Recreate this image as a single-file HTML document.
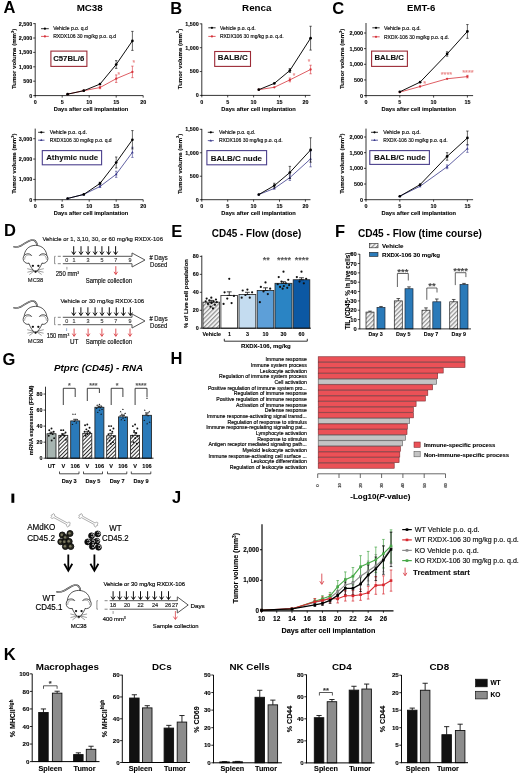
<!DOCTYPE html>
<html><head><meta charset="utf-8"><style>
html,body{margin:0;padding:0;background:#fff;}
svg{display:block;}
text{font-family:"Liberation Sans",Arial,sans-serif;}
</style></head><body>
<svg width="520" height="773" viewBox="0 0 520 773">
<rect width="520" height="773" fill="#fff"/>
<text x="3.5" y="13.46" font-size="16.5" font-weight="bold">A</text>
<text x="170.3" y="13.76" font-size="16.5" font-weight="bold">B</text>
<text x="332.2" y="13.96" font-size="16.5" font-weight="bold">C</text>
<text x="89.7" y="10.98" font-size="9.8" font-weight="bold" text-anchor="middle">MC38</text>
<text x="256.8" y="10.88" font-size="9.8" font-weight="bold" text-anchor="middle">Renca</text>
<text x="421.2" y="10.71" font-size="9.6" font-weight="bold" text-anchor="middle">EMT-6</text>
<line x1="35.2" y1="23.2" x2="35.2" y2="96" stroke="#000" stroke-width="0.8"/>
<line x1="33.2" y1="95.6" x2="35.2" y2="95.6" stroke="#000" stroke-width="0.72"/>
<text x="32.2" y="97.52" font-size="5.4" font-weight="bold" text-anchor="end" stroke="#000" stroke-width="0.1">0</text>
<line x1="33.2" y1="81.2" x2="35.2" y2="81.2" stroke="#000" stroke-width="0.72"/>
<text x="32.2" y="83.12" font-size="5.4" font-weight="bold" text-anchor="end" stroke="#000" stroke-width="0.1">500</text>
<line x1="33.2" y1="66.8" x2="35.2" y2="66.8" stroke="#000" stroke-width="0.72"/>
<text x="32.2" y="68.72" font-size="5.4" font-weight="bold" text-anchor="end" stroke="#000" stroke-width="0.1">1,000</text>
<line x1="33.2" y1="52.4" x2="35.2" y2="52.4" stroke="#000" stroke-width="0.72"/>
<text x="32.2" y="54.32" font-size="5.4" font-weight="bold" text-anchor="end" stroke="#000" stroke-width="0.1">1,500</text>
<line x1="33.2" y1="38" x2="35.2" y2="38" stroke="#000" stroke-width="0.72"/>
<text x="32.2" y="39.92" font-size="5.4" font-weight="bold" text-anchor="end" stroke="#000" stroke-width="0.1">2,000</text>
<line x1="33.2" y1="23.6" x2="35.2" y2="23.6" stroke="#000" stroke-width="0.72"/>
<text x="32.2" y="25.52" font-size="5.4" font-weight="bold" text-anchor="end" stroke="#000" stroke-width="0.1">2,500</text>
<line x1="34.8" y1="95.6" x2="143.2" y2="95.6" stroke="#000" stroke-width="0.8"/>
<line x1="35.2" y1="95.6" x2="35.2" y2="97.6" stroke="#000" stroke-width="0.72"/>
<text x="35.2" y="103.82" font-size="5.4" font-weight="bold" text-anchor="middle" stroke="#000" stroke-width="0.1">0</text>
<line x1="62.2" y1="95.6" x2="62.2" y2="97.6" stroke="#000" stroke-width="0.72"/>
<text x="62.2" y="103.82" font-size="5.4" font-weight="bold" text-anchor="middle" stroke="#000" stroke-width="0.1">5</text>
<line x1="89.2" y1="95.6" x2="89.2" y2="97.6" stroke="#000" stroke-width="0.72"/>
<text x="89.2" y="103.82" font-size="5.4" font-weight="bold" text-anchor="middle" stroke="#000" stroke-width="0.1">10</text>
<line x1="116.2" y1="95.6" x2="116.2" y2="97.6" stroke="#000" stroke-width="0.72"/>
<text x="116.2" y="103.82" font-size="5.4" font-weight="bold" text-anchor="middle" stroke="#000" stroke-width="0.1">15</text>
<line x1="143.2" y1="95.6" x2="143.2" y2="97.6" stroke="#000" stroke-width="0.72"/>
<text x="143.2" y="103.82" font-size="5.4" font-weight="bold" text-anchor="middle" stroke="#000" stroke-width="0.1">20</text>
<text x="13.8" y="61.07" font-size="6.1" font-weight="bold" text-anchor="middle" stroke="#000" stroke-width="0.1" transform="rotate(-90 13.8 58.9)">Tumor volume (mm<tspan font-size="4" dy="-2.2">3</tspan><tspan dy="2.2">)</tspan></text>
<text x="91" y="111.04" font-size="5.75" font-weight="bold" text-anchor="middle" textLength="74.5" lengthAdjust="spacingAndGlyphs" stroke="#000" stroke-width="0.1">Days after cell implantation</text>
<line x1="41" y1="28.7" x2="48.8" y2="28.7" stroke="#000" stroke-width="0.8"/>
<circle cx="44.9" cy="28.7" r="1.1" fill="#000"/>
<line x1="41" y1="36.4" x2="48.8" y2="36.4" stroke="#d6333b" stroke-width="0.8"/>
<circle cx="44.9" cy="36.4" r="1.1" fill="#d6333b"/>
<text x="53.2" y="30.47" font-size="5" fill="#111" textLength="34.6" lengthAdjust="spacingAndGlyphs" stroke="#111" stroke-width="0.16">Vehicle p.o. q.d</text>
<text x="53.2" y="38.17" font-size="5" fill="#111" textLength="62.8" lengthAdjust="spacingAndGlyphs" stroke="#111" stroke-width="0.16">RXDX106 30 mg/kg p.o. q.d</text>
<rect x="50.9" y="51.1" width="36" height="15.3" fill="#fff" stroke="#9c2a36" stroke-width="1.1"/>
<text x="53.2" y="60.76" font-size="7.77" font-weight="bold" fill="#111" textLength="31.1" lengthAdjust="spacingAndGlyphs" stroke="#111" stroke-width="0.1">C57BL/6</text>
<path d="M67.6,94.16 L83.8,90.7 L100,87.54 L116.2,78.69 L132.4,71.9" fill="none" stroke="#d6333b" stroke-width="0.8"/>
<line x1="100" y1="86.38" x2="100" y2="88.69" stroke="#d6333b" stroke-width="0.6"/>
<line x1="98.8" y1="86.38" x2="101.2" y2="86.38" stroke="#d6333b" stroke-width="0.6"/>
<line x1="98.8" y1="88.69" x2="101.2" y2="88.69" stroke="#d6333b" stroke-width="0.6"/>
<line x1="116.2" y1="74.95" x2="116.2" y2="82.44" stroke="#d6333b" stroke-width="0.6"/>
<line x1="115" y1="74.95" x2="117.4" y2="74.95" stroke="#d6333b" stroke-width="0.6"/>
<line x1="115" y1="82.44" x2="117.4" y2="82.44" stroke="#d6333b" stroke-width="0.6"/>
<line x1="132.4" y1="66.14" x2="132.4" y2="77.66" stroke="#d6333b" stroke-width="0.6"/>
<line x1="131.2" y1="66.14" x2="133.6" y2="66.14" stroke="#d6333b" stroke-width="0.6"/>
<line x1="131.2" y1="77.66" x2="133.6" y2="77.66" stroke="#d6333b" stroke-width="0.6"/>
<circle cx="67.6" cy="94.16" r="1.15" fill="#d6333b"/>
<circle cx="83.8" cy="90.7" r="1.15" fill="#d6333b"/>
<circle cx="100" cy="87.54" r="1.15" fill="#d6333b"/>
<circle cx="116.2" cy="78.69" r="1.15" fill="#d6333b"/>
<circle cx="132.4" cy="71.9" r="1.15" fill="#d6333b"/>
<path d="M67.6,94.16 L83.8,90.7 L100,84.08 L116.2,64.5 L132.4,40.88" fill="none" stroke="#000" stroke-width="0.95"/>
<line x1="116.2" y1="60.61" x2="116.2" y2="68.38" stroke="#000" stroke-width="0.6"/>
<line x1="115" y1="60.61" x2="117.4" y2="60.61" stroke="#000" stroke-width="0.6"/>
<line x1="115" y1="68.38" x2="117.4" y2="68.38" stroke="#000" stroke-width="0.6"/>
<line x1="132.4" y1="31.38" x2="132.4" y2="50.38" stroke="#000" stroke-width="0.6"/>
<line x1="131.2" y1="31.38" x2="133.6" y2="31.38" stroke="#000" stroke-width="0.6"/>
<line x1="131.2" y1="50.38" x2="133.6" y2="50.38" stroke="#000" stroke-width="0.6"/>
<circle cx="67.6" cy="94.16" r="1.35" fill="#000"/>
<circle cx="83.8" cy="90.7" r="1.35" fill="#000"/>
<circle cx="100" cy="84.08" r="1.35" fill="#000"/>
<circle cx="116.2" cy="64.5" r="1.35" fill="#000"/>
<circle cx="132.4" cy="40.88" r="1.35" fill="#000"/>
<text x="118.8" y="76.51" font-size="6.5" text-anchor="middle" fill="#ea8a8a" stroke="#ea8a8a" stroke-width="0.16">*</text>
<text x="133.8" y="65.11" font-size="6.5" text-anchor="middle" fill="#ea8a8a" stroke="#ea8a8a" stroke-width="0.16">*</text>
<line x1="201.8" y1="23.5" x2="201.8" y2="95.8" stroke="#000" stroke-width="0.8"/>
<line x1="199.8" y1="95.4" x2="201.8" y2="95.4" stroke="#000" stroke-width="0.72"/>
<text x="198.8" y="97.32" font-size="5.4" font-weight="bold" text-anchor="end" stroke="#000" stroke-width="0.1">0</text>
<line x1="199.8" y1="71.55" x2="201.8" y2="71.55" stroke="#000" stroke-width="0.72"/>
<text x="198.8" y="73.47" font-size="5.4" font-weight="bold" text-anchor="end" stroke="#000" stroke-width="0.1">500</text>
<line x1="199.8" y1="47.7" x2="201.8" y2="47.7" stroke="#000" stroke-width="0.72"/>
<text x="198.8" y="49.62" font-size="5.4" font-weight="bold" text-anchor="end" stroke="#000" stroke-width="0.1">1,000</text>
<line x1="199.8" y1="23.85" x2="201.8" y2="23.85" stroke="#000" stroke-width="0.72"/>
<text x="198.8" y="25.77" font-size="5.4" font-weight="bold" text-anchor="end" stroke="#000" stroke-width="0.1">1,500</text>
<line x1="201.4" y1="95.4" x2="310.5" y2="95.4" stroke="#000" stroke-width="0.8"/>
<line x1="201.8" y1="95.4" x2="201.8" y2="97.4" stroke="#000" stroke-width="0.72"/>
<text x="201.8" y="103.62" font-size="5.4" font-weight="bold" text-anchor="middle" stroke="#000" stroke-width="0.1">0</text>
<line x1="227.7" y1="95.4" x2="227.7" y2="97.4" stroke="#000" stroke-width="0.72"/>
<text x="227.7" y="103.62" font-size="5.4" font-weight="bold" text-anchor="middle" stroke="#000" stroke-width="0.1">5</text>
<line x1="253.6" y1="95.4" x2="253.6" y2="97.4" stroke="#000" stroke-width="0.72"/>
<text x="253.6" y="103.62" font-size="5.4" font-weight="bold" text-anchor="middle" stroke="#000" stroke-width="0.1">10</text>
<line x1="279.5" y1="95.4" x2="279.5" y2="97.4" stroke="#000" stroke-width="0.72"/>
<text x="279.5" y="103.62" font-size="5.4" font-weight="bold" text-anchor="middle" stroke="#000" stroke-width="0.1">15</text>
<line x1="305.4" y1="95.4" x2="305.4" y2="97.4" stroke="#000" stroke-width="0.72"/>
<text x="305.4" y="103.62" font-size="5.4" font-weight="bold" text-anchor="middle" stroke="#000" stroke-width="0.1">20</text>
<text x="179.5" y="61.12" font-size="6.1" font-weight="bold" text-anchor="middle" stroke="#000" stroke-width="0.1" transform="rotate(-90 179.5 58.95)">Tumor volume (mm<tspan font-size="4" dy="-2.2">3</tspan><tspan dy="2.2">)</tspan></text>
<text x="258.6" y="110.84" font-size="5.75" font-weight="bold" text-anchor="middle" textLength="74.5" lengthAdjust="spacingAndGlyphs" stroke="#000" stroke-width="0.1">Days after cell implantation</text>
<line x1="208.3" y1="27.8" x2="215.6" y2="27.8" stroke="#000" stroke-width="0.8"/>
<circle cx="211.95" cy="27.8" r="1.1" fill="#000"/>
<line x1="208.3" y1="36.4" x2="215.6" y2="36.4" stroke="#d6333b" stroke-width="0.8"/>
<circle cx="211.95" cy="36.4" r="1.1" fill="#d6333b"/>
<text x="219.9" y="29.57" font-size="5" fill="#111" textLength="35.8" lengthAdjust="spacingAndGlyphs" stroke="#111" stroke-width="0.16">Vehicle p.o. q.d.</text>
<text x="219.9" y="38.17" font-size="5" fill="#111" textLength="63.7" lengthAdjust="spacingAndGlyphs" stroke="#111" stroke-width="0.16">RXDX106 30 mg/kg p.o. q.d.</text>
<rect x="214.7" y="51.5" width="35.8" height="14.9" fill="#fff" stroke="#9c2a36" stroke-width="1.1"/>
<text x="217.8" y="60.4" font-size="7.89" font-weight="bold" fill="#111" textLength="29.8" lengthAdjust="spacingAndGlyphs" stroke="#111" stroke-width="0.1">BALB/C</text>
<path d="M258.78,89.68 L274.32,87.29 L289.86,79.9 L310.58,69.5" fill="none" stroke="#d6333b" stroke-width="0.8"/>
<line x1="289.86" y1="77.99" x2="289.86" y2="81.81" stroke="#d6333b" stroke-width="0.6"/>
<line x1="288.66" y1="77.99" x2="291.06" y2="77.99" stroke="#d6333b" stroke-width="0.6"/>
<line x1="288.66" y1="81.81" x2="291.06" y2="81.81" stroke="#d6333b" stroke-width="0.6"/>
<line x1="310.58" y1="65.21" x2="310.58" y2="73.79" stroke="#d6333b" stroke-width="0.6"/>
<line x1="309.38" y1="65.21" x2="311.78" y2="65.21" stroke="#d6333b" stroke-width="0.6"/>
<line x1="309.38" y1="73.79" x2="311.78" y2="73.79" stroke="#d6333b" stroke-width="0.6"/>
<circle cx="258.78" cy="89.68" r="1.15" fill="#d6333b"/>
<circle cx="274.32" cy="87.29" r="1.15" fill="#d6333b"/>
<circle cx="289.86" cy="79.9" r="1.15" fill="#d6333b"/>
<circle cx="310.58" cy="69.5" r="1.15" fill="#d6333b"/>
<path d="M258.78,89.68 L274.32,83.38 L289.86,70.5 L310.58,38.16" fill="none" stroke="#000" stroke-width="0.95"/>
<line x1="289.86" y1="68.59" x2="289.86" y2="72.41" stroke="#000" stroke-width="0.6"/>
<line x1="288.66" y1="68.59" x2="291.06" y2="68.59" stroke="#000" stroke-width="0.6"/>
<line x1="288.66" y1="72.41" x2="291.06" y2="72.41" stroke="#000" stroke-width="0.6"/>
<line x1="310.58" y1="26.24" x2="310.58" y2="50.09" stroke="#000" stroke-width="0.6"/>
<line x1="309.38" y1="26.24" x2="311.78" y2="26.24" stroke="#000" stroke-width="0.6"/>
<line x1="309.38" y1="50.09" x2="311.78" y2="50.09" stroke="#000" stroke-width="0.6"/>
<circle cx="258.78" cy="89.68" r="1.35" fill="#000"/>
<circle cx="274.32" cy="83.38" r="1.35" fill="#000"/>
<circle cx="289.86" cy="70.5" r="1.35" fill="#000"/>
<circle cx="310.58" cy="38.16" r="1.35" fill="#000"/>
<text x="294" y="78.31" font-size="6.5" text-anchor="middle" fill="#ea8a8a" stroke="#ea8a8a" stroke-width="0.16">*</text>
<text x="309.1" y="63.51" font-size="6.5" text-anchor="middle" fill="#ea8a8a" stroke="#ea8a8a" stroke-width="0.16">*</text>
<line x1="366" y1="23" x2="366" y2="96" stroke="#000" stroke-width="0.8"/>
<line x1="364" y1="95.6" x2="366" y2="95.6" stroke="#000" stroke-width="0.72"/>
<text x="363" y="97.52" font-size="5.4" font-weight="bold" text-anchor="end" stroke="#000" stroke-width="0.1">0</text>
<line x1="364" y1="79.95" x2="366" y2="79.95" stroke="#000" stroke-width="0.72"/>
<text x="363" y="81.87" font-size="5.4" font-weight="bold" text-anchor="end" stroke="#000" stroke-width="0.1">500</text>
<line x1="364" y1="64.3" x2="366" y2="64.3" stroke="#000" stroke-width="0.72"/>
<text x="363" y="66.22" font-size="5.4" font-weight="bold" text-anchor="end" stroke="#000" stroke-width="0.1">1,000</text>
<line x1="364" y1="48.65" x2="366" y2="48.65" stroke="#000" stroke-width="0.72"/>
<text x="363" y="50.57" font-size="5.4" font-weight="bold" text-anchor="end" stroke="#000" stroke-width="0.1">1,500</text>
<line x1="364" y1="33" x2="366" y2="33" stroke="#000" stroke-width="0.72"/>
<text x="363" y="34.92" font-size="5.4" font-weight="bold" text-anchor="end" stroke="#000" stroke-width="0.1">2,000</text>
<line x1="365.6" y1="95.6" x2="473.1" y2="95.6" stroke="#000" stroke-width="0.8"/>
<line x1="366" y1="95.6" x2="366" y2="97.6" stroke="#000" stroke-width="0.72"/>
<text x="366" y="103.82" font-size="5.4" font-weight="bold" text-anchor="middle" stroke="#000" stroke-width="0.1">0</text>
<line x1="399.8" y1="95.6" x2="399.8" y2="97.6" stroke="#000" stroke-width="0.72"/>
<text x="399.8" y="103.82" font-size="5.4" font-weight="bold" text-anchor="middle" stroke="#000" stroke-width="0.1">5</text>
<line x1="433.6" y1="95.6" x2="433.6" y2="97.6" stroke="#000" stroke-width="0.72"/>
<text x="433.6" y="103.82" font-size="5.4" font-weight="bold" text-anchor="middle" stroke="#000" stroke-width="0.1">10</text>
<line x1="467.4" y1="95.6" x2="467.4" y2="97.6" stroke="#000" stroke-width="0.72"/>
<text x="467.4" y="103.82" font-size="5.4" font-weight="bold" text-anchor="middle" stroke="#000" stroke-width="0.1">15</text>
<text x="342.3" y="60.97" font-size="6.1" font-weight="bold" text-anchor="middle" stroke="#000" stroke-width="0.1" transform="rotate(-90 342.3 58.8)">Tumor volume (mm<tspan font-size="4" dy="-2.2">3</tspan><tspan dy="2.2">)</tspan></text>
<text x="418.8" y="111.04" font-size="5.75" font-weight="bold" text-anchor="middle" textLength="74.5" lengthAdjust="spacingAndGlyphs" stroke="#000" stroke-width="0.1">Days after cell implantation</text>
<line x1="372.3" y1="27.8" x2="379.7" y2="27.8" stroke="#000" stroke-width="0.8"/>
<circle cx="376" cy="27.8" r="1.1" fill="#000"/>
<line x1="372.3" y1="36.8" x2="379.7" y2="36.8" stroke="#d6333b" stroke-width="0.8"/>
<circle cx="376" cy="36.8" r="1.1" fill="#d6333b"/>
<text x="384" y="29.57" font-size="5" fill="#111" textLength="36.7" lengthAdjust="spacingAndGlyphs" stroke="#111" stroke-width="0.16">Vehicle p.o. q.d.</text>
<text x="384" y="38.57" font-size="5" fill="#111" textLength="64.9" lengthAdjust="spacingAndGlyphs" stroke="#111" stroke-width="0.16">RXDX-106 30 mg/kg p.o. q.d.</text>
<rect x="371.6" y="51.1" width="35.8" height="15.3" fill="#fff" stroke="#9c2a36" stroke-width="1.1"/>
<text x="374.5" y="60.36" font-size="7.78" font-weight="bold" fill="#111" textLength="29.4" lengthAdjust="spacingAndGlyphs" stroke="#111" stroke-width="0.1">BALB/C</text>
<path d="M399.8,92.16 L420.08,86.52 L447.12,78.79 L467.4,76.6" fill="none" stroke="#d6333b" stroke-width="0.8"/>
<line x1="467.4" y1="75.35" x2="467.4" y2="77.85" stroke="#d6333b" stroke-width="0.6"/>
<line x1="466.2" y1="75.35" x2="468.6" y2="75.35" stroke="#d6333b" stroke-width="0.6"/>
<line x1="466.2" y1="77.85" x2="468.6" y2="77.85" stroke="#d6333b" stroke-width="0.6"/>
<circle cx="399.8" cy="92.16" r="1.15" fill="#d6333b"/>
<circle cx="420.08" cy="86.52" r="1.15" fill="#d6333b"/>
<circle cx="447.12" cy="78.79" r="1.15" fill="#d6333b"/>
<circle cx="467.4" cy="76.6" r="1.15" fill="#d6333b"/>
<path d="M399.8,91.84 L420.08,82.14 L447.12,53.97 L467.4,31.43" fill="none" stroke="#000" stroke-width="0.95"/>
<line x1="447.12" y1="51.78" x2="447.12" y2="56.16" stroke="#000" stroke-width="0.6"/>
<line x1="445.92" y1="51.78" x2="448.32" y2="51.78" stroke="#000" stroke-width="0.6"/>
<line x1="445.92" y1="56.16" x2="448.32" y2="56.16" stroke="#000" stroke-width="0.6"/>
<line x1="467.4" y1="24.55" x2="467.4" y2="38.32" stroke="#000" stroke-width="0.6"/>
<line x1="466.2" y1="24.55" x2="468.6" y2="24.55" stroke="#000" stroke-width="0.6"/>
<line x1="466.2" y1="38.32" x2="468.6" y2="38.32" stroke="#000" stroke-width="0.6"/>
<circle cx="399.8" cy="91.84" r="1.35" fill="#000"/>
<circle cx="420.08" cy="82.14" r="1.35" fill="#000"/>
<circle cx="447.12" cy="53.97" r="1.35" fill="#000"/>
<circle cx="467.4" cy="31.43" r="1.35" fill="#000"/>
<text x="424.6" y="85.63" font-size="7.4" text-anchor="middle" fill="#ea8a8a" stroke="#ea8a8a" stroke-width="0.16">*</text>
<text x="446.5" y="77.43" font-size="7.4" text-anchor="middle" fill="#ea8a8a" stroke="#ea8a8a" stroke-width="0.16">****</text>
<text x="468" y="74.83" font-size="7.4" text-anchor="middle" fill="#ea8a8a" stroke="#ea8a8a" stroke-width="0.16">****</text>
<line x1="35.2" y1="128.6" x2="35.2" y2="200.1" stroke="#000" stroke-width="0.8"/>
<line x1="33.2" y1="199.7" x2="35.2" y2="199.7" stroke="#000" stroke-width="0.72"/>
<text x="32.2" y="201.62" font-size="5.4" font-weight="bold" text-anchor="end" stroke="#000" stroke-width="0.1">0</text>
<line x1="33.2" y1="179.37" x2="35.2" y2="179.37" stroke="#000" stroke-width="0.72"/>
<text x="32.2" y="181.29" font-size="5.4" font-weight="bold" text-anchor="end" stroke="#000" stroke-width="0.1">1,000</text>
<line x1="33.2" y1="159.04" x2="35.2" y2="159.04" stroke="#000" stroke-width="0.72"/>
<text x="32.2" y="160.96" font-size="5.4" font-weight="bold" text-anchor="end" stroke="#000" stroke-width="0.1">2,000</text>
<line x1="33.2" y1="138.71" x2="35.2" y2="138.71" stroke="#000" stroke-width="0.72"/>
<text x="32.2" y="140.63" font-size="5.4" font-weight="bold" text-anchor="end" stroke="#000" stroke-width="0.1">3,000</text>
<line x1="34.8" y1="199.7" x2="143.2" y2="199.7" stroke="#000" stroke-width="0.8"/>
<line x1="35.2" y1="199.7" x2="35.2" y2="201.7" stroke="#000" stroke-width="0.72"/>
<text x="35.2" y="207.92" font-size="5.4" font-weight="bold" text-anchor="middle" stroke="#000" stroke-width="0.1">0</text>
<line x1="62.2" y1="199.7" x2="62.2" y2="201.7" stroke="#000" stroke-width="0.72"/>
<text x="62.2" y="207.92" font-size="5.4" font-weight="bold" text-anchor="middle" stroke="#000" stroke-width="0.1">5</text>
<line x1="89.2" y1="199.7" x2="89.2" y2="201.7" stroke="#000" stroke-width="0.72"/>
<text x="89.2" y="207.92" font-size="5.4" font-weight="bold" text-anchor="middle" stroke="#000" stroke-width="0.1">10</text>
<line x1="116.2" y1="199.7" x2="116.2" y2="201.7" stroke="#000" stroke-width="0.72"/>
<text x="116.2" y="207.92" font-size="5.4" font-weight="bold" text-anchor="middle" stroke="#000" stroke-width="0.1">15</text>
<line x1="143.2" y1="199.7" x2="143.2" y2="201.7" stroke="#000" stroke-width="0.72"/>
<text x="143.2" y="207.92" font-size="5.4" font-weight="bold" text-anchor="middle" stroke="#000" stroke-width="0.1">20</text>
<text x="13.8" y="165.82" font-size="6.1" font-weight="bold" text-anchor="middle" stroke="#000" stroke-width="0.1" transform="rotate(-90 13.8 163.65)">Tumor volume (mm<tspan font-size="4" dy="-2.2">3</tspan><tspan dy="2.2">)</tspan></text>
<text x="91" y="215.14" font-size="5.75" font-weight="bold" text-anchor="middle" textLength="74.5" lengthAdjust="spacingAndGlyphs" stroke="#000" stroke-width="0.1">Days after cell implantation</text>
<line x1="38.1" y1="132.3" x2="44.5" y2="132.3" stroke="#000" stroke-width="0.8"/>
<circle cx="41.3" cy="132.3" r="1.1" fill="#000"/>
<line x1="38.1" y1="140.2" x2="44.5" y2="140.2" stroke="#3a3a8c" stroke-width="0.8"/>
<path d="M41.3,138.81 L42.57,141.12 L40.03,141.12 Z" fill="#3a3a8c"/>
<text x="49.7" y="134.08" font-size="5" fill="#111" textLength="37.2" lengthAdjust="spacingAndGlyphs" stroke="#111" stroke-width="0.16">Vehicle p.o. q.d.</text>
<text x="49.7" y="141.97" font-size="5" fill="#111" textLength="61.9" lengthAdjust="spacingAndGlyphs" stroke="#111" stroke-width="0.16">RXDX106 30 mg/kg p.o. q.d</text>
<rect x="42.3" y="150.6" width="59.3" height="14.2" fill="#fff" stroke="#4b3f8c" stroke-width="1.1"/>
<text x="46.2" y="160.39" font-size="7.85" font-weight="bold" fill="#111" textLength="51.9" lengthAdjust="spacingAndGlyphs" stroke="#111" stroke-width="0.1">Athymic nude</text>
<path d="M67.6,198.48 L83.8,194.41 L100,186.49 L116.2,174.29 L132.4,152.33" fill="none" stroke="#3a3a8c" stroke-width="0.8"/>
<line x1="100" y1="185.67" x2="100" y2="187.3" stroke="#3a3a8c" stroke-width="0.6"/>
<line x1="98.8" y1="185.67" x2="101.2" y2="185.67" stroke="#3a3a8c" stroke-width="0.6"/>
<line x1="98.8" y1="187.3" x2="101.2" y2="187.3" stroke="#3a3a8c" stroke-width="0.6"/>
<line x1="116.2" y1="171.24" x2="116.2" y2="177.34" stroke="#3a3a8c" stroke-width="0.6"/>
<line x1="115" y1="171.24" x2="117.4" y2="171.24" stroke="#3a3a8c" stroke-width="0.6"/>
<line x1="115" y1="177.34" x2="117.4" y2="177.34" stroke="#3a3a8c" stroke-width="0.6"/>
<line x1="132.4" y1="147.25" x2="132.4" y2="157.41" stroke="#3a3a8c" stroke-width="0.6"/>
<line x1="131.2" y1="147.25" x2="133.6" y2="147.25" stroke="#3a3a8c" stroke-width="0.6"/>
<line x1="131.2" y1="157.41" x2="133.6" y2="157.41" stroke="#3a3a8c" stroke-width="0.6"/>
<path d="M67.6,197.03 L68.93,199.45 L66.27,199.45 Z" fill="#3a3a8c"/>
<path d="M83.8,192.97 L85.13,195.38 L82.47,195.38 Z" fill="#3a3a8c"/>
<path d="M100,185.04 L101.33,187.45 L98.67,187.45 Z" fill="#3a3a8c"/>
<path d="M116.2,172.84 L117.53,175.25 L114.87,175.25 Z" fill="#3a3a8c"/>
<path d="M132.4,150.88 L133.73,153.3 L131.07,153.3 Z" fill="#3a3a8c"/>
<path d="M67.6,198.48 L83.8,194.41 L100,183.44 L116.2,162.5 L132.4,139.73" fill="none" stroke="#000" stroke-width="0.95"/>
<line x1="100" y1="182.22" x2="100" y2="184.66" stroke="#000" stroke-width="0.6"/>
<line x1="98.8" y1="182.22" x2="101.2" y2="182.22" stroke="#000" stroke-width="0.6"/>
<line x1="98.8" y1="184.66" x2="101.2" y2="184.66" stroke="#000" stroke-width="0.6"/>
<line x1="116.2" y1="157.01" x2="116.2" y2="167.99" stroke="#000" stroke-width="0.6"/>
<line x1="115" y1="157.01" x2="117.4" y2="157.01" stroke="#000" stroke-width="0.6"/>
<line x1="115" y1="167.99" x2="117.4" y2="167.99" stroke="#000" stroke-width="0.6"/>
<line x1="132.4" y1="130.58" x2="132.4" y2="148.88" stroke="#000" stroke-width="0.6"/>
<line x1="131.2" y1="130.58" x2="133.6" y2="130.58" stroke="#000" stroke-width="0.6"/>
<line x1="131.2" y1="148.88" x2="133.6" y2="148.88" stroke="#000" stroke-width="0.6"/>
<circle cx="67.6" cy="198.48" r="1.35" fill="#000"/>
<circle cx="83.8" cy="194.41" r="1.35" fill="#000"/>
<circle cx="100" cy="183.44" r="1.35" fill="#000"/>
<circle cx="116.2" cy="162.5" r="1.35" fill="#000"/>
<circle cx="132.4" cy="139.73" r="1.35" fill="#000"/>
<line x1="201.8" y1="128.9" x2="201.8" y2="200.1" stroke="#000" stroke-width="0.8"/>
<line x1="199.8" y1="199.7" x2="201.8" y2="199.7" stroke="#000" stroke-width="0.72"/>
<text x="198.8" y="201.62" font-size="5.4" font-weight="bold" text-anchor="end" stroke="#000" stroke-width="0.1">0</text>
<line x1="199.8" y1="176.23" x2="201.8" y2="176.23" stroke="#000" stroke-width="0.72"/>
<text x="198.8" y="178.15" font-size="5.4" font-weight="bold" text-anchor="end" stroke="#000" stroke-width="0.1">500</text>
<line x1="199.8" y1="152.77" x2="201.8" y2="152.77" stroke="#000" stroke-width="0.72"/>
<text x="198.8" y="154.69" font-size="5.4" font-weight="bold" text-anchor="end" stroke="#000" stroke-width="0.1">1,000</text>
<line x1="199.8" y1="129.31" x2="201.8" y2="129.31" stroke="#000" stroke-width="0.72"/>
<text x="198.8" y="131.22" font-size="5.4" font-weight="bold" text-anchor="end" stroke="#000" stroke-width="0.1">1,500</text>
<line x1="201.4" y1="199.7" x2="310.5" y2="199.7" stroke="#000" stroke-width="0.8"/>
<line x1="201.8" y1="199.7" x2="201.8" y2="201.7" stroke="#000" stroke-width="0.72"/>
<text x="201.8" y="207.92" font-size="5.4" font-weight="bold" text-anchor="middle" stroke="#000" stroke-width="0.1">0</text>
<line x1="227.7" y1="199.7" x2="227.7" y2="201.7" stroke="#000" stroke-width="0.72"/>
<text x="227.7" y="207.92" font-size="5.4" font-weight="bold" text-anchor="middle" stroke="#000" stroke-width="0.1">5</text>
<line x1="253.6" y1="199.7" x2="253.6" y2="201.7" stroke="#000" stroke-width="0.72"/>
<text x="253.6" y="207.92" font-size="5.4" font-weight="bold" text-anchor="middle" stroke="#000" stroke-width="0.1">10</text>
<line x1="279.5" y1="199.7" x2="279.5" y2="201.7" stroke="#000" stroke-width="0.72"/>
<text x="279.5" y="207.92" font-size="5.4" font-weight="bold" text-anchor="middle" stroke="#000" stroke-width="0.1">15</text>
<line x1="305.4" y1="199.7" x2="305.4" y2="201.7" stroke="#000" stroke-width="0.72"/>
<text x="305.4" y="207.92" font-size="5.4" font-weight="bold" text-anchor="middle" stroke="#000" stroke-width="0.1">20</text>
<text x="179.5" y="165.97" font-size="6.1" font-weight="bold" text-anchor="middle" stroke="#000" stroke-width="0.1" transform="rotate(-90 179.5 163.8)">Tumor volume (mm<tspan font-size="4" dy="-2.2">3</tspan><tspan dy="2.2">)</tspan></text>
<text x="258.6" y="215.14" font-size="5.75" font-weight="bold" text-anchor="middle" textLength="74.5" lengthAdjust="spacingAndGlyphs" stroke="#000" stroke-width="0.1">Days after cell implantation</text>
<line x1="207.8" y1="132.3" x2="213.8" y2="132.3" stroke="#000" stroke-width="0.8"/>
<circle cx="210.8" cy="132.3" r="1.1" fill="#000"/>
<line x1="207.8" y1="140.6" x2="213.8" y2="140.6" stroke="#3a3a8c" stroke-width="0.8"/>
<path d="M210.8,139.21 L212.07,141.52 L209.53,141.52 Z" fill="#3a3a8c"/>
<text x="219" y="134.08" font-size="5" fill="#111" textLength="36.4" lengthAdjust="spacingAndGlyphs" stroke="#111" stroke-width="0.16">Vehicle p.o. q.d.</text>
<text x="219" y="142.38" font-size="5" fill="#111" textLength="63.7" lengthAdjust="spacingAndGlyphs" stroke="#111" stroke-width="0.16">RXDX106 30 mg/kg p.o. q.d.</text>
<rect x="206.9" y="150.6" width="59.7" height="14.2" fill="#fff" stroke="#4b3f8c" stroke-width="1.1"/>
<text x="210.7" y="160.83" font-size="7.96" font-weight="bold" fill="#111" textLength="51.3" lengthAdjust="spacingAndGlyphs" stroke="#111" stroke-width="0.1">BALB/C nude</text>
<path d="M258.78,194.54 L274.32,188.44 L289.86,177.64 L310.58,158.87" fill="none" stroke="#3a3a8c" stroke-width="0.8"/>
<line x1="289.86" y1="174.83" x2="289.86" y2="180.46" stroke="#3a3a8c" stroke-width="0.6"/>
<line x1="288.66" y1="174.83" x2="291.06" y2="174.83" stroke="#3a3a8c" stroke-width="0.6"/>
<line x1="288.66" y1="180.46" x2="291.06" y2="180.46" stroke="#3a3a8c" stroke-width="0.6"/>
<line x1="310.58" y1="150.89" x2="310.58" y2="166.85" stroke="#3a3a8c" stroke-width="0.6"/>
<line x1="309.38" y1="150.89" x2="311.78" y2="150.89" stroke="#3a3a8c" stroke-width="0.6"/>
<line x1="309.38" y1="166.85" x2="311.78" y2="166.85" stroke="#3a3a8c" stroke-width="0.6"/>
<path d="M258.78,193.09 L260.11,195.5 L257.45,195.5 Z" fill="#3a3a8c"/>
<path d="M274.32,186.99 L275.65,189.4 L272.99,189.4 Z" fill="#3a3a8c"/>
<path d="M289.86,176.19 L291.19,178.61 L288.53,178.61 Z" fill="#3a3a8c"/>
<path d="M310.58,157.42 L311.91,159.84 L309.25,159.84 Z" fill="#3a3a8c"/>
<path d="M258.78,194.54 L274.32,185.62 L289.86,172.48 L310.58,149.95" fill="none" stroke="#000" stroke-width="0.95"/>
<line x1="274.32" y1="183.27" x2="274.32" y2="187.97" stroke="#000" stroke-width="0.6"/>
<line x1="273.12" y1="183.27" x2="275.52" y2="183.27" stroke="#000" stroke-width="0.6"/>
<line x1="273.12" y1="187.97" x2="275.52" y2="187.97" stroke="#000" stroke-width="0.6"/>
<line x1="289.86" y1="166.38" x2="289.86" y2="178.58" stroke="#000" stroke-width="0.6"/>
<line x1="288.66" y1="166.38" x2="291.06" y2="166.38" stroke="#000" stroke-width="0.6"/>
<line x1="288.66" y1="178.58" x2="291.06" y2="178.58" stroke="#000" stroke-width="0.6"/>
<line x1="310.58" y1="137.75" x2="310.58" y2="162.16" stroke="#000" stroke-width="0.6"/>
<line x1="309.38" y1="137.75" x2="311.78" y2="137.75" stroke="#000" stroke-width="0.6"/>
<line x1="309.38" y1="162.16" x2="311.78" y2="162.16" stroke="#000" stroke-width="0.6"/>
<circle cx="258.78" cy="194.54" r="1.35" fill="#000"/>
<circle cx="274.32" cy="185.62" r="1.35" fill="#000"/>
<circle cx="289.86" cy="172.48" r="1.35" fill="#000"/>
<circle cx="310.58" cy="149.95" r="1.35" fill="#000"/>
<line x1="366" y1="128.6" x2="366" y2="200.1" stroke="#000" stroke-width="0.8"/>
<line x1="364" y1="199.7" x2="366" y2="199.7" stroke="#000" stroke-width="0.72"/>
<text x="363" y="201.62" font-size="5.4" font-weight="bold" text-anchor="end" stroke="#000" stroke-width="0.1">0</text>
<line x1="364" y1="184.02" x2="366" y2="184.02" stroke="#000" stroke-width="0.72"/>
<text x="363" y="185.94" font-size="5.4" font-weight="bold" text-anchor="end" stroke="#000" stroke-width="0.1">500</text>
<line x1="364" y1="168.35" x2="366" y2="168.35" stroke="#000" stroke-width="0.72"/>
<text x="363" y="170.27" font-size="5.4" font-weight="bold" text-anchor="end" stroke="#000" stroke-width="0.1">1,000</text>
<line x1="364" y1="152.67" x2="366" y2="152.67" stroke="#000" stroke-width="0.72"/>
<text x="363" y="154.59" font-size="5.4" font-weight="bold" text-anchor="end" stroke="#000" stroke-width="0.1">1,500</text>
<line x1="364" y1="137" x2="366" y2="137" stroke="#000" stroke-width="0.72"/>
<text x="363" y="138.92" font-size="5.4" font-weight="bold" text-anchor="end" stroke="#000" stroke-width="0.1">2,000</text>
<line x1="365.6" y1="199.7" x2="473.1" y2="199.7" stroke="#000" stroke-width="0.8"/>
<line x1="366" y1="199.7" x2="366" y2="201.7" stroke="#000" stroke-width="0.72"/>
<text x="366" y="207.92" font-size="5.4" font-weight="bold" text-anchor="middle" stroke="#000" stroke-width="0.1">0</text>
<line x1="399.8" y1="199.7" x2="399.8" y2="201.7" stroke="#000" stroke-width="0.72"/>
<text x="399.8" y="207.92" font-size="5.4" font-weight="bold" text-anchor="middle" stroke="#000" stroke-width="0.1">5</text>
<line x1="433.6" y1="199.7" x2="433.6" y2="201.7" stroke="#000" stroke-width="0.72"/>
<text x="433.6" y="207.92" font-size="5.4" font-weight="bold" text-anchor="middle" stroke="#000" stroke-width="0.1">10</text>
<line x1="467.4" y1="199.7" x2="467.4" y2="201.7" stroke="#000" stroke-width="0.72"/>
<text x="467.4" y="207.92" font-size="5.4" font-weight="bold" text-anchor="middle" stroke="#000" stroke-width="0.1">15</text>
<text x="342.3" y="165.82" font-size="6.1" font-weight="bold" text-anchor="middle" stroke="#000" stroke-width="0.1" transform="rotate(-90 342.3 163.65)">Tumor volume (mm<tspan font-size="4" dy="-2.2">3</tspan><tspan dy="2.2">)</tspan></text>
<text x="418.8" y="215.14" font-size="5.75" font-weight="bold" text-anchor="middle" textLength="74.5" lengthAdjust="spacingAndGlyphs" stroke="#000" stroke-width="0.1">Days after cell implantation</text>
<line x1="371" y1="132.3" x2="378" y2="132.3" stroke="#000" stroke-width="0.8"/>
<circle cx="374.5" cy="132.3" r="1.1" fill="#000"/>
<line x1="371" y1="140.2" x2="378" y2="140.2" stroke="#3a3a8c" stroke-width="0.8"/>
<path d="M374.5,138.81 L375.77,141.12 L373.23,141.12 Z" fill="#3a3a8c"/>
<text x="383.2" y="134.08" font-size="5" fill="#111" textLength="37.5" lengthAdjust="spacingAndGlyphs" stroke="#111" stroke-width="0.16">Vehicle p.o. q.d.</text>
<text x="383.2" y="141.97" font-size="5" fill="#111" textLength="64.5" lengthAdjust="spacingAndGlyphs" stroke="#111" stroke-width="0.16">RXDX-106 30 mg/kg p.o. q.d.</text>
<rect x="369.8" y="150.6" width="59.6" height="13.8" fill="#fff" stroke="#4b3f8c" stroke-width="1.1"/>
<text x="374" y="160.24" font-size="8.01" font-weight="bold" fill="#111" textLength="51.6" lengthAdjust="spacingAndGlyphs" stroke="#111" stroke-width="0.1">BALB/C nude</text>
<path d="M399.8,196.25 L420.08,186.22 L447.12,166.78 L467.4,148.6" fill="none" stroke="#3a3a8c" stroke-width="0.8"/>
<line x1="447.12" y1="164.9" x2="447.12" y2="168.66" stroke="#3a3a8c" stroke-width="0.6"/>
<line x1="445.92" y1="164.9" x2="448.32" y2="164.9" stroke="#3a3a8c" stroke-width="0.6"/>
<line x1="445.92" y1="168.66" x2="448.32" y2="168.66" stroke="#3a3a8c" stroke-width="0.6"/>
<line x1="467.4" y1="144.84" x2="467.4" y2="152.36" stroke="#3a3a8c" stroke-width="0.6"/>
<line x1="466.2" y1="144.84" x2="468.6" y2="144.84" stroke="#3a3a8c" stroke-width="0.6"/>
<line x1="466.2" y1="152.36" x2="468.6" y2="152.36" stroke="#3a3a8c" stroke-width="0.6"/>
<path d="M399.8,194.8 L401.13,197.22 L398.47,197.22 Z" fill="#3a3a8c"/>
<path d="M420.08,184.77 L421.41,187.19 L418.75,187.19 Z" fill="#3a3a8c"/>
<path d="M447.12,165.33 L448.45,167.75 L445.79,167.75 Z" fill="#3a3a8c"/>
<path d="M467.4,147.15 L468.73,149.57 L466.07,149.57 Z" fill="#3a3a8c"/>
<path d="M399.8,196.25 L420.08,184.65 L447.12,156.44 L467.4,137.94" fill="none" stroke="#000" stroke-width="0.95"/>
<line x1="447.12" y1="152.67" x2="447.12" y2="160.2" stroke="#000" stroke-width="0.6"/>
<line x1="445.92" y1="152.67" x2="448.32" y2="152.67" stroke="#000" stroke-width="0.6"/>
<line x1="445.92" y1="160.2" x2="448.32" y2="160.2" stroke="#000" stroke-width="0.6"/>
<line x1="467.4" y1="131.04" x2="467.4" y2="144.84" stroke="#000" stroke-width="0.6"/>
<line x1="466.2" y1="131.04" x2="468.6" y2="131.04" stroke="#000" stroke-width="0.6"/>
<line x1="466.2" y1="144.84" x2="468.6" y2="144.84" stroke="#000" stroke-width="0.6"/>
<circle cx="399.8" cy="196.25" r="1.35" fill="#000"/>
<circle cx="420.08" cy="184.65" r="1.35" fill="#000"/>
<circle cx="447.12" cy="156.44" r="1.35" fill="#000"/>
<circle cx="467.4" cy="137.94" r="1.35" fill="#000"/>
<defs>
<pattern id="hatch" patternUnits="userSpaceOnUse" width="3.1" height="3.1" patternTransform="rotate(45)">
<rect width="3.1" height="3.1" fill="#f2f2f2"/><line x1="0.6" y1="0" x2="0.6" y2="3.1" stroke="#8a8a8a" stroke-width="1.1"/></pattern>
<pattern id="hatchG" patternUnits="userSpaceOnUse" width="2.7" height="2.7" patternTransform="rotate(45)">
<rect width="2.7" height="2.7" fill="#fff"/><line x1="0.5" y1="0" x2="0.5" y2="2.7" stroke="#222" stroke-width="0.95"/></pattern>
</defs>
<text x="4" y="235.86" font-size="16.5" font-weight="bold">D</text>
<g transform="translate(35.5 259) scale(1.05) translate(-35.5 -259)">
<path d="M37.0,246.0 C36.6,242.6 34.6,240.4 31.8,240.9 C28.4,241.5 25.2,244.6 21.6,246.3 C19.2,247.4 16.8,247.7 15.0,247.4" fill="none" stroke="#2a2a2a" stroke-width="1.5" stroke-linecap="round"/>
<path d="M37.0,246.0 C36.6,242.6 34.6,240.4 31.8,240.9 C28.4,241.5 25.2,244.6 21.6,246.3 C19.2,247.4 16.8,247.7 15.0,247.4" fill="none" stroke="#fff" stroke-width="0.55" stroke-linecap="round"/>
<path d="M24.6,257.5 C24.6,250.5 29.0,246.0 35.5,246.0 C42.0,246.0 46.4,250.5 46.4,257.5 L35.5,265 Z" fill="#fff" stroke="#2a2a2a" stroke-width="0.75"/>
<circle cx="28.3" cy="258.6" r="4.6" fill="#fff" stroke="#2a2a2a" stroke-width="0.75"/>
<circle cx="42.7" cy="258.6" r="4.6" fill="#fff" stroke="#2a2a2a" stroke-width="0.75"/>
<path d="M25.2,259.6 C25.0,256.0 28.0,254.3 31.0,255.6" fill="none" stroke="#666" stroke-width="0.55"/>
<path d="M45.8,259.6 C46.0,256.0 43.0,254.3 40.0,255.6" fill="none" stroke="#666" stroke-width="0.55"/>
<path d="M31.2,256.2 C33.5,255.2 37.5,255.2 39.8,256.2 L41.9,262.6 C40.2,266.6 37.6,270.2 35.5,272.2 C33.4,270.2 30.8,266.6 29.1,262.6 Z" fill="#fff"/>
<path d="M29.1,262.6 C30.8,266.6 33.4,270.2 35.5,272.2 C37.6,270.2 40.2,266.6 41.9,262.6" fill="none" stroke="#2a2a2a" stroke-width="0.75"/>
<circle cx="33" cy="265.5" r="1.1" fill="#111"/>
<circle cx="38.2" cy="265.5" r="1.1" fill="#111"/>
<path d="M34.0,269.9 L37.2,269.9 L35.6,272.0 Z" fill="#111"/>
<line x1="33.6" y1="269.6" x2="27.6" y2="268.2" stroke="#333" stroke-width="0.45"/>
<line x1="33.6" y1="270.2" x2="27.8" y2="271.6" stroke="#333" stroke-width="0.45"/>
<line x1="33.9" y1="270.6" x2="29.6" y2="273.8" stroke="#333" stroke-width="0.45"/>
<line x1="37.4" y1="269.6" x2="43.4" y2="268.2" stroke="#333" stroke-width="0.45"/>
<line x1="37.4" y1="270.2" x2="43.2" y2="271.6" stroke="#333" stroke-width="0.45"/>
<line x1="37.1" y1="270.6" x2="41.4" y2="273.8" stroke="#333" stroke-width="0.45"/>
</g>
<g transform="translate(35.5 320) scale(1.05) translate(-35.5 -259)">
<path d="M37.0,246.0 C36.6,242.6 34.6,240.4 31.8,240.9 C28.4,241.5 25.2,244.6 21.6,246.3 C19.2,247.4 16.8,247.7 15.0,247.4" fill="none" stroke="#2a2a2a" stroke-width="1.5" stroke-linecap="round"/>
<path d="M37.0,246.0 C36.6,242.6 34.6,240.4 31.8,240.9 C28.4,241.5 25.2,244.6 21.6,246.3 C19.2,247.4 16.8,247.7 15.0,247.4" fill="none" stroke="#fff" stroke-width="0.55" stroke-linecap="round"/>
<path d="M24.6,257.5 C24.6,250.5 29.0,246.0 35.5,246.0 C42.0,246.0 46.4,250.5 46.4,257.5 L35.5,265 Z" fill="#fff" stroke="#2a2a2a" stroke-width="0.75"/>
<circle cx="28.3" cy="258.6" r="4.6" fill="#fff" stroke="#2a2a2a" stroke-width="0.75"/>
<circle cx="42.7" cy="258.6" r="4.6" fill="#fff" stroke="#2a2a2a" stroke-width="0.75"/>
<path d="M25.2,259.6 C25.0,256.0 28.0,254.3 31.0,255.6" fill="none" stroke="#666" stroke-width="0.55"/>
<path d="M45.8,259.6 C46.0,256.0 43.0,254.3 40.0,255.6" fill="none" stroke="#666" stroke-width="0.55"/>
<path d="M31.2,256.2 C33.5,255.2 37.5,255.2 39.8,256.2 L41.9,262.6 C40.2,266.6 37.6,270.2 35.5,272.2 C33.4,270.2 30.8,266.6 29.1,262.6 Z" fill="#fff"/>
<path d="M29.1,262.6 C30.8,266.6 33.4,270.2 35.5,272.2 C37.6,270.2 40.2,266.6 41.9,262.6" fill="none" stroke="#2a2a2a" stroke-width="0.75"/>
<circle cx="33" cy="265.5" r="1.1" fill="#111"/>
<circle cx="38.2" cy="265.5" r="1.1" fill="#111"/>
<path d="M34.0,269.9 L37.2,269.9 L35.6,272.0 Z" fill="#111"/>
<line x1="33.6" y1="269.6" x2="27.6" y2="268.2" stroke="#333" stroke-width="0.45"/>
<line x1="33.6" y1="270.2" x2="27.8" y2="271.6" stroke="#333" stroke-width="0.45"/>
<line x1="33.9" y1="270.6" x2="29.6" y2="273.8" stroke="#333" stroke-width="0.45"/>
<line x1="37.4" y1="269.6" x2="43.4" y2="268.2" stroke="#333" stroke-width="0.45"/>
<line x1="37.4" y1="270.2" x2="43.2" y2="271.6" stroke="#333" stroke-width="0.45"/>
<line x1="37.1" y1="270.6" x2="41.4" y2="273.8" stroke="#333" stroke-width="0.45"/>
</g>
<text x="35.6" y="282.13" font-size="6" text-anchor="middle" fill="#222" textLength="15.5" lengthAdjust="spacingAndGlyphs" stroke="#222" stroke-width="0.16">MC38</text>
<text x="35.6" y="343.13" font-size="6" text-anchor="middle" fill="#222" textLength="15.5" lengthAdjust="spacingAndGlyphs" stroke="#222" stroke-width="0.16">MC38</text>
<path d="M55.6,256.3 L54.6,256.3 L54.6,263.7 L55.6,263.7" fill="none" stroke="#444" stroke-width="0.6"/>
<line x1="57.8" y1="256.3" x2="60.8" y2="256.3" stroke="#666" stroke-width="0.8"/>
<line x1="57.8" y1="263.7" x2="60.8" y2="263.7" stroke="#666" stroke-width="0.8"/>
<path d="M62.8,256.3 L132,256.3 L132,252.97 L145,260 L132,267.03 L132,263.7 L62.8,263.7" fill="#fff" stroke="#555" stroke-width="1" stroke-linejoin="miter"/>
<text x="66.8" y="262.12" font-size="5.4" text-anchor="middle" fill="#444" stroke="#444" stroke-width="0.16">0</text>
<text x="74.1" y="262.12" font-size="5.4" text-anchor="middle" fill="#444" stroke="#444" stroke-width="0.16">1</text>
<text x="88.1" y="262.12" font-size="5.4" text-anchor="middle" fill="#444" stroke="#444" stroke-width="0.16">3</text>
<text x="101.9" y="262.12" font-size="5.4" text-anchor="middle" fill="#444" stroke="#444" stroke-width="0.16">5</text>
<text x="115.8" y="262.12" font-size="5.4" text-anchor="middle" fill="#444" stroke="#444" stroke-width="0.16">7</text>
<text x="130" y="262.12" font-size="5.4" text-anchor="middle" fill="#444" stroke="#444" stroke-width="0.16">9</text>
<text x="149.4" y="259.87" font-size="6.4" fill="#111" textLength="18.3" lengthAdjust="spacingAndGlyphs" stroke="#111" stroke-width="0.16"># Days</text>
<text x="150.1" y="266.87" font-size="6.4" fill="#111" textLength="17.2" lengthAdjust="spacingAndGlyphs" stroke="#111" stroke-width="0.16">Dosed</text>
<path d="M55.6,317.3 L54.6,317.3 L54.6,324.7 L55.6,324.7" fill="none" stroke="#444" stroke-width="0.6"/>
<line x1="57.8" y1="317.3" x2="60.8" y2="317.3" stroke="#666" stroke-width="0.8"/>
<line x1="57.8" y1="324.7" x2="60.8" y2="324.7" stroke="#666" stroke-width="0.8"/>
<path d="M62.8,317.3 L132,317.3 L132,313.97 L145,321 L132,328.03 L132,324.7 L62.8,324.7" fill="#fff" stroke="#555" stroke-width="1" stroke-linejoin="miter"/>
<text x="66.8" y="323.12" font-size="5.4" text-anchor="middle" fill="#444" stroke="#444" stroke-width="0.16">0</text>
<text x="74.1" y="323.12" font-size="5.4" text-anchor="middle" fill="#444" stroke="#444" stroke-width="0.16">1</text>
<text x="88.1" y="323.12" font-size="5.4" text-anchor="middle" fill="#444" stroke="#444" stroke-width="0.16">3</text>
<text x="101.9" y="323.12" font-size="5.4" text-anchor="middle" fill="#444" stroke="#444" stroke-width="0.16">5</text>
<text x="115.8" y="323.12" font-size="5.4" text-anchor="middle" fill="#444" stroke="#444" stroke-width="0.16">7</text>
<text x="130" y="323.12" font-size="5.4" text-anchor="middle" fill="#444" stroke="#444" stroke-width="0.16">9</text>
<text x="149.4" y="320.87" font-size="6.4" fill="#111" textLength="18.3" lengthAdjust="spacingAndGlyphs" stroke="#111" stroke-width="0.16"># Days</text>
<text x="150.1" y="327.87" font-size="6.4" fill="#111" textLength="17.2" lengthAdjust="spacingAndGlyphs" stroke="#111" stroke-width="0.16">Dosed</text>
<text x="42.4" y="241" font-size="6.2" fill="#111" textLength="120.6" lengthAdjust="spacingAndGlyphs" stroke="#111" stroke-width="0.16">Vehicle or 1, 3,10, 30, or 60 mg/kg RXDX-106</text>
<line x1="73.7" y1="246.2" x2="73.7" y2="254" stroke="#111" stroke-width="1"/>
<path d="M71.7,251.6 L73.7,254.6 L75.7,251.6" fill="none" stroke="#111" stroke-width="1" stroke-linejoin="miter" stroke-linecap="butt"/>
<line x1="81" y1="246.2" x2="81" y2="254" stroke="#111" stroke-width="1"/>
<path d="M79,251.6 L81,254.6 L83,251.6" fill="none" stroke="#111" stroke-width="1" stroke-linejoin="miter" stroke-linecap="butt"/>
<line x1="88.1" y1="246.2" x2="88.1" y2="254" stroke="#111" stroke-width="1"/>
<path d="M86.1,251.6 L88.1,254.6 L90.1,251.6" fill="none" stroke="#111" stroke-width="1" stroke-linejoin="miter" stroke-linecap="butt"/>
<line x1="95.2" y1="246.2" x2="95.2" y2="254" stroke="#111" stroke-width="1"/>
<path d="M93.2,251.6 L95.2,254.6 L97.2,251.6" fill="none" stroke="#111" stroke-width="1" stroke-linejoin="miter" stroke-linecap="butt"/>
<line x1="101.9" y1="246.2" x2="101.9" y2="254" stroke="#111" stroke-width="1"/>
<path d="M99.9,251.6 L101.9,254.6 L103.9,251.6" fill="none" stroke="#111" stroke-width="1" stroke-linejoin="miter" stroke-linecap="butt"/>
<line x1="108.7" y1="246.2" x2="108.7" y2="254" stroke="#111" stroke-width="1"/>
<path d="M106.7,251.6 L108.7,254.6 L110.7,251.6" fill="none" stroke="#111" stroke-width="1" stroke-linejoin="miter" stroke-linecap="butt"/>
<line x1="115.6" y1="246.2" x2="115.6" y2="254" stroke="#111" stroke-width="1"/>
<path d="M113.6,251.6 L115.6,254.6 L117.6,251.6" fill="none" stroke="#111" stroke-width="1" stroke-linejoin="miter" stroke-linecap="butt"/>
<line x1="115.8" y1="266.2" x2="115.8" y2="274" stroke="#d7282f" stroke-width="0.8"/>
<path d="M114,271.8 L115.8,274.6 L117.6,271.8" fill="none" stroke="#d7282f" stroke-width="0.8" stroke-linejoin="miter" stroke-linecap="butt"/>
<line x1="66.9" y1="266.9" x2="66.9" y2="269.6" stroke="#333" stroke-width="0.5"/>
<text x="55.8" y="275.57" font-size="6.4" fill="#111" textLength="23.4" lengthAdjust="spacingAndGlyphs" stroke="#111" stroke-width="0.16">250 mm<tspan font-size="3.6" dy="-2">3</tspan></text>
<text x="85.8" y="282.64" font-size="6.3" fill="#111" textLength="46.2" lengthAdjust="spacingAndGlyphs" stroke="#111" stroke-width="0.16">Sample collection</text>
<text x="60.4" y="302.6" font-size="6.2" fill="#111" textLength="83.8" lengthAdjust="spacingAndGlyphs" stroke="#111" stroke-width="0.16">Vehicle or 30 mg/kg RXDX-106</text>
<line x1="73.7" y1="307.3" x2="73.7" y2="315" stroke="#111" stroke-width="1"/>
<path d="M71.7,312.6 L73.7,315.6 L75.7,312.6" fill="none" stroke="#111" stroke-width="1" stroke-linejoin="miter" stroke-linecap="butt"/>
<line x1="80.9" y1="307.3" x2="80.9" y2="315" stroke="#111" stroke-width="1"/>
<path d="M78.9,312.6 L80.9,315.6 L82.9,312.6" fill="none" stroke="#111" stroke-width="1" stroke-linejoin="miter" stroke-linecap="butt"/>
<line x1="87.9" y1="307.3" x2="87.9" y2="315" stroke="#111" stroke-width="1"/>
<path d="M85.9,312.6 L87.9,315.6 L89.9,312.6" fill="none" stroke="#111" stroke-width="1" stroke-linejoin="miter" stroke-linecap="butt"/>
<line x1="95.1" y1="307.3" x2="95.1" y2="315" stroke="#111" stroke-width="1"/>
<path d="M93.1,312.6 L95.1,315.6 L97.1,312.6" fill="none" stroke="#111" stroke-width="1" stroke-linejoin="miter" stroke-linecap="butt"/>
<line x1="102.1" y1="307.3" x2="102.1" y2="315" stroke="#111" stroke-width="1"/>
<path d="M100.1,312.6 L102.1,315.6 L104.1,312.6" fill="none" stroke="#111" stroke-width="1" stroke-linejoin="miter" stroke-linecap="butt"/>
<line x1="109.3" y1="307.3" x2="109.3" y2="315" stroke="#111" stroke-width="1"/>
<path d="M107.3,312.6 L109.3,315.6 L111.3,312.6" fill="none" stroke="#111" stroke-width="1" stroke-linejoin="miter" stroke-linecap="butt"/>
<line x1="116.3" y1="307.3" x2="116.3" y2="315" stroke="#111" stroke-width="1"/>
<path d="M114.3,312.6 L116.3,315.6 L118.3,312.6" fill="none" stroke="#111" stroke-width="1" stroke-linejoin="miter" stroke-linecap="butt"/>
<line x1="123.4" y1="307.3" x2="123.4" y2="315" stroke="#111" stroke-width="1"/>
<path d="M121.4,312.6 L123.4,315.6 L125.4,312.6" fill="none" stroke="#111" stroke-width="1" stroke-linejoin="miter" stroke-linecap="butt"/>
<line x1="130.4" y1="307.3" x2="130.4" y2="315" stroke="#111" stroke-width="1"/>
<path d="M128.4,312.6 L130.4,315.6 L132.4,312.6" fill="none" stroke="#111" stroke-width="1" stroke-linejoin="miter" stroke-linecap="butt"/>
<line x1="74.1" y1="328.6" x2="74.1" y2="335.8" stroke="#d7282f" stroke-width="0.8"/>
<path d="M72.3,333.6 L74.1,336.4 L75.9,333.6" fill="none" stroke="#d7282f" stroke-width="0.8" stroke-linejoin="miter" stroke-linecap="butt"/>
<line x1="88.1" y1="328.6" x2="88.1" y2="335.8" stroke="#d7282f" stroke-width="0.8"/>
<path d="M86.3,333.6 L88.1,336.4 L89.9,333.6" fill="none" stroke="#d7282f" stroke-width="0.8" stroke-linejoin="miter" stroke-linecap="butt"/>
<line x1="101.9" y1="328.6" x2="101.9" y2="335.8" stroke="#d7282f" stroke-width="0.8"/>
<path d="M100.1,333.6 L101.9,336.4 L103.7,333.6" fill="none" stroke="#d7282f" stroke-width="0.8" stroke-linejoin="miter" stroke-linecap="butt"/>
<line x1="115.8" y1="328.6" x2="115.8" y2="335.8" stroke="#d7282f" stroke-width="0.8"/>
<path d="M114,333.6 L115.8,336.4 L117.6,333.6" fill="none" stroke="#d7282f" stroke-width="0.8" stroke-linejoin="miter" stroke-linecap="butt"/>
<line x1="130" y1="328.6" x2="130" y2="335.8" stroke="#d7282f" stroke-width="0.8"/>
<path d="M128.2,333.6 L130,336.4 L131.8,333.6" fill="none" stroke="#d7282f" stroke-width="0.8" stroke-linejoin="miter" stroke-linecap="butt"/>
<line x1="66.6" y1="328.2" x2="66.6" y2="331" stroke="#2a5fa8" stroke-width="0.5"/>
<text x="46.7" y="337.87" font-size="6.4" fill="#111" textLength="22.5" lengthAdjust="spacingAndGlyphs" stroke="#111" stroke-width="0.16">150 mm<tspan font-size="3.6" dy="-2">3</tspan></text>
<text x="74.2" y="343.64" font-size="6.3" text-anchor="middle" fill="#111" stroke="#111" stroke-width="0.16">UT</text>
<text x="85.8" y="343.64" font-size="6.3" fill="#111" textLength="46.2" lengthAdjust="spacingAndGlyphs" stroke="#111" stroke-width="0.16">Sample collection</text>
<text x="171.3" y="237.26" font-size="16.5" font-weight="bold">E</text>
<text x="211.8" y="237.13" font-size="10.5" font-weight="bold" textLength="89.5" lengthAdjust="spacingAndGlyphs">CD45 - Flow (dose)</text>
<rect x="203" y="302.17" width="16.6" height="26.03" fill="url(#hatch)" stroke="#222" stroke-width="0.8"/>
<rect x="220.9" y="295.44" width="16.7" height="32.76" fill="#ffffff" stroke="#222" stroke-width="0.8"/>
<rect x="239" y="294.54" width="16.8" height="33.66" fill="#c4dcf0" stroke="#222" stroke-width="0.8"/>
<rect x="257.2" y="290.5" width="16.6" height="37.69" fill="#5d9fd8" stroke="#222" stroke-width="0.8"/>
<rect x="275" y="283.32" width="17" height="44.88" fill="#2a84c4" stroke="#222" stroke-width="0.8"/>
<rect x="293.2" y="279.74" width="16.6" height="48.46" fill="#0c58a3" stroke="#222" stroke-width="0.8"/>
<line x1="211.3" y1="302.17" x2="211.3" y2="300.38" stroke="#111" stroke-width="0.8"/>
<line x1="208.9" y1="300.38" x2="213.7" y2="300.38" stroke="#111" stroke-width="0.8"/>
<line x1="208.9" y1="302.17" x2="213.7" y2="302.17" stroke="#111" stroke-width="0.8"/>
<circle cx="211.3" cy="297.69" r="1.1" fill="#111"/>
<circle cx="206.65" cy="298.58" r="1.1" fill="#111"/>
<circle cx="215.95" cy="299.48" r="1.1" fill="#111"/>
<circle cx="209.31" cy="300.38" r="1.1" fill="#111"/>
<circle cx="213.62" cy="301.27" r="1.1" fill="#111"/>
<circle cx="205.66" cy="301.27" r="1.1" fill="#111"/>
<circle cx="216.78" cy="302.17" r="1.1" fill="#111"/>
<circle cx="211.63" cy="303.07" r="1.1" fill="#111"/>
<circle cx="207.98" cy="303.97" r="1.1" fill="#111"/>
<circle cx="214.95" cy="304.87" r="1.1" fill="#111"/>
<circle cx="210.47" cy="306.66" r="1.1" fill="#111"/>
<circle cx="212.96" cy="308.45" r="1.1" fill="#111"/>
<line x1="229.25" y1="295.44" x2="229.25" y2="291.85" stroke="#111" stroke-width="0.8"/>
<line x1="226.85" y1="291.85" x2="231.65" y2="291.85" stroke="#111" stroke-width="0.8"/>
<line x1="226.85" y1="295.44" x2="231.65" y2="295.44" stroke="#111" stroke-width="0.8"/>
<circle cx="229.25" cy="278.84" r="1.1" fill="#111"/>
<circle cx="224.57" cy="292.3" r="1.1" fill="#111"/>
<circle cx="233.93" cy="295.89" r="1.1" fill="#111"/>
<circle cx="227.25" cy="298.58" r="1.1" fill="#111"/>
<circle cx="231.59" cy="303.07" r="1.1" fill="#111"/>
<circle cx="223.57" cy="303.97" r="1.1" fill="#111"/>
<line x1="247.4" y1="294.54" x2="247.4" y2="292.3" stroke="#111" stroke-width="0.8"/>
<line x1="245" y1="292.3" x2="249.8" y2="292.3" stroke="#111" stroke-width="0.8"/>
<line x1="245" y1="294.54" x2="249.8" y2="294.54" stroke="#111" stroke-width="0.8"/>
<circle cx="247.4" cy="289.61" r="1.1" fill="#111"/>
<circle cx="242.7" cy="290.5" r="1.1" fill="#111"/>
<circle cx="252.1" cy="292.3" r="1.1" fill="#111"/>
<circle cx="245.38" cy="294.99" r="1.1" fill="#111"/>
<circle cx="249.75" cy="297.69" r="1.1" fill="#111"/>
<circle cx="241.69" cy="297.69" r="1.1" fill="#111"/>
<line x1="265.5" y1="290.5" x2="265.5" y2="287.81" stroke="#111" stroke-width="0.8"/>
<line x1="263.1" y1="287.81" x2="267.9" y2="287.81" stroke="#111" stroke-width="0.8"/>
<line x1="263.1" y1="290.5" x2="267.9" y2="290.5" stroke="#111" stroke-width="0.8"/>
<circle cx="265.5" cy="282.43" r="1.1" fill="#111"/>
<circle cx="260.85" cy="286.91" r="1.1" fill="#111"/>
<circle cx="270.15" cy="288.71" r="1.1" fill="#111"/>
<circle cx="263.51" cy="291.4" r="1.1" fill="#111"/>
<circle cx="267.82" cy="294.09" r="1.1" fill="#111"/>
<circle cx="259.86" cy="302.17" r="1.1" fill="#111"/>
<line x1="283.5" y1="283.32" x2="283.5" y2="281.71" stroke="#111" stroke-width="0.8"/>
<line x1="281.1" y1="281.71" x2="285.9" y2="281.71" stroke="#111" stroke-width="0.8"/>
<line x1="281.1" y1="283.32" x2="285.9" y2="283.32" stroke="#111" stroke-width="0.8"/>
<circle cx="283.5" cy="271.66" r="1.1" fill="#111"/>
<circle cx="278.74" cy="277.04" r="1.1" fill="#111"/>
<circle cx="288.26" cy="279.74" r="1.1" fill="#111"/>
<circle cx="281.46" cy="281.53" r="1.1" fill="#111"/>
<circle cx="285.88" cy="283.32" r="1.1" fill="#111"/>
<circle cx="277.72" cy="284.22" r="1.1" fill="#111"/>
<circle cx="289.11" cy="285.12" r="1.1" fill="#111"/>
<circle cx="283.84" cy="286.02" r="1.1" fill="#111"/>
<circle cx="280.1" cy="286.91" r="1.1" fill="#111"/>
<circle cx="287.24" cy="287.81" r="1.1" fill="#111"/>
<circle cx="282.65" cy="288.71" r="1.1" fill="#111"/>
<line x1="301.5" y1="279.74" x2="301.5" y2="277.76" stroke="#111" stroke-width="0.8"/>
<line x1="299.1" y1="277.76" x2="303.9" y2="277.76" stroke="#111" stroke-width="0.8"/>
<line x1="299.1" y1="279.74" x2="303.9" y2="279.74" stroke="#111" stroke-width="0.8"/>
<circle cx="301.5" cy="271.66" r="1.1" fill="#111"/>
<circle cx="296.85" cy="277.04" r="1.1" fill="#111"/>
<circle cx="306.15" cy="278.84" r="1.1" fill="#111"/>
<circle cx="299.51" cy="281.53" r="1.1" fill="#111"/>
<circle cx="303.82" cy="283.32" r="1.1" fill="#111"/>
<line x1="201.8" y1="255.5" x2="201.8" y2="328.6" stroke="#000" stroke-width="0.8"/>
<line x1="199.8" y1="328.2" x2="201.8" y2="328.2" stroke="#000" stroke-width="0.72"/>
<text x="198.8" y="330.12" font-size="5.4" font-weight="bold" text-anchor="end" stroke="#000" stroke-width="0.1">0</text>
<line x1="199.8" y1="310.25" x2="201.8" y2="310.25" stroke="#000" stroke-width="0.72"/>
<text x="198.8" y="312.17" font-size="5.4" font-weight="bold" text-anchor="end" stroke="#000" stroke-width="0.1">20</text>
<line x1="199.8" y1="292.3" x2="201.8" y2="292.3" stroke="#000" stroke-width="0.72"/>
<text x="198.8" y="294.22" font-size="5.4" font-weight="bold" text-anchor="end" stroke="#000" stroke-width="0.1">40</text>
<line x1="199.8" y1="274.35" x2="201.8" y2="274.35" stroke="#000" stroke-width="0.72"/>
<text x="198.8" y="276.27" font-size="5.4" font-weight="bold" text-anchor="end" stroke="#000" stroke-width="0.1">60</text>
<line x1="199.8" y1="256.4" x2="201.8" y2="256.4" stroke="#000" stroke-width="0.72"/>
<text x="198.8" y="258.32" font-size="5.4" font-weight="bold" text-anchor="end" stroke="#000" stroke-width="0.1">80</text>
<line x1="201.8" y1="328.2" x2="311" y2="328.2" stroke="#000" stroke-width="0.8"/>
<text x="211.7" y="336.12" font-size="5.4" font-weight="bold" text-anchor="middle" stroke="#000" stroke-width="0.1">Vehicle</text>
<text x="229.5" y="336.12" font-size="5.4" font-weight="bold" text-anchor="middle" stroke="#000" stroke-width="0.1">1</text>
<text x="247.4" y="336.12" font-size="5.4" font-weight="bold" text-anchor="middle" stroke="#000" stroke-width="0.1">3</text>
<text x="265.6" y="336.12" font-size="5.4" font-weight="bold" text-anchor="middle" stroke="#000" stroke-width="0.1">10</text>
<text x="283.5" y="336.12" font-size="5.4" font-weight="bold" text-anchor="middle" stroke="#000" stroke-width="0.1">30</text>
<text x="301.5" y="336.12" font-size="5.4" font-weight="bold" text-anchor="middle" stroke="#000" stroke-width="0.1">60</text>
<path d="M224.3,338.8 L224.3,341.2 L307.3,341.2 L307.3,338.8" fill="none" stroke="#000" stroke-width="0.8"/>
<text x="265.8" y="347.73" font-size="6" font-weight="bold" text-anchor="middle" stroke="#000" stroke-width="0.1">RXDX-106, mg/kg</text>
<text x="266.2" y="262.5" font-size="9" font-weight="bold" text-anchor="middle" fill="#555">**</text>
<text x="283.9" y="262.5" font-size="9" font-weight="bold" text-anchor="middle" fill="#555">****</text>
<text x="301.8" y="262.5" font-size="9" font-weight="bold" text-anchor="middle" fill="#555">****</text>
<text x="185.6" y="295.69" font-size="5.9" font-weight="bold" text-anchor="middle" textLength="69" lengthAdjust="spacingAndGlyphs" stroke="#000" stroke-width="0.1" transform="rotate(-90 185.6 293.6)">% of Live cell population</text>
<text x="335" y="237.06" font-size="16.5" font-weight="bold">F</text>
<text x="357.9" y="237.23" font-size="10.5" font-weight="bold" textLength="124" lengthAdjust="spacingAndGlyphs">CD45 - Flow (time course)</text>
<rect x="369.4" y="243.6" width="8.6" height="4.2" fill="url(#hatch)" stroke="#222" stroke-width="0.6"/>
<rect x="369.4" y="252.3" width="8.6" height="4.2" fill="#2a7ab9" stroke="#222" stroke-width="0.6"/>
<text x="382" y="247.8" font-size="6.2" font-weight="bold" stroke="#000" stroke-width="0.1">Vehicle</text>
<text x="382" y="256.6" font-size="6.2" font-weight="bold" textLength="58" lengthAdjust="spacingAndGlyphs" stroke="#000" stroke-width="0.1">RXDX-106 30 mg/kg</text>
<rect x="366" y="312.09" width="8" height="16.81" fill="url(#hatch)" stroke="#222" stroke-width="0.7"/>
<rect x="377" y="307.42" width="8" height="21.48" fill="#2a7ab9" stroke="#1b2a3a" stroke-width="0.7"/>
<line x1="370" y1="312.09" x2="370" y2="311.15" stroke="#111" stroke-width="0.7"/>
<line x1="368.2" y1="311.15" x2="371.8" y2="311.15" stroke="#111" stroke-width="0.7"/>
<line x1="381" y1="307.42" x2="381" y2="306.48" stroke="#111" stroke-width="0.7"/>
<line x1="379.2" y1="306.48" x2="382.8" y2="306.48" stroke="#111" stroke-width="0.7"/>
<rect x="394.3" y="300.88" width="8" height="28.02" fill="url(#hatch)" stroke="#222" stroke-width="0.7"/>
<rect x="405" y="288.74" width="8" height="40.16" fill="#2a7ab9" stroke="#1b2a3a" stroke-width="0.7"/>
<line x1="398.3" y1="300.88" x2="398.3" y2="298.54" stroke="#111" stroke-width="0.7"/>
<line x1="396.5" y1="298.54" x2="400.1" y2="298.54" stroke="#111" stroke-width="0.7"/>
<line x1="409" y1="288.74" x2="409" y2="286.87" stroke="#111" stroke-width="0.7"/>
<line x1="407.2" y1="286.87" x2="410.8" y2="286.87" stroke="#111" stroke-width="0.7"/>
<rect x="422" y="310.22" width="8" height="18.68" fill="url(#hatch)" stroke="#222" stroke-width="0.7"/>
<rect x="432.8" y="301.81" width="8" height="27.09" fill="#2a7ab9" stroke="#1b2a3a" stroke-width="0.7"/>
<line x1="426" y1="310.22" x2="426" y2="307.88" stroke="#111" stroke-width="0.7"/>
<line x1="424.2" y1="307.88" x2="427.8" y2="307.88" stroke="#111" stroke-width="0.7"/>
<line x1="436.8" y1="301.81" x2="436.8" y2="299.01" stroke="#111" stroke-width="0.7"/>
<line x1="435" y1="299.01" x2="438.6" y2="299.01" stroke="#111" stroke-width="0.7"/>
<rect x="449.7" y="301.81" width="8" height="27.09" fill="url(#hatch)" stroke="#222" stroke-width="0.7"/>
<rect x="460" y="284.53" width="8" height="44.37" fill="#2a7ab9" stroke="#1b2a3a" stroke-width="0.7"/>
<line x1="453.7" y1="301.81" x2="453.7" y2="299.48" stroke="#111" stroke-width="0.7"/>
<line x1="451.9" y1="299.48" x2="455.5" y2="299.48" stroke="#111" stroke-width="0.7"/>
<line x1="464" y1="284.53" x2="464" y2="283.41" stroke="#111" stroke-width="0.7"/>
<line x1="462.2" y1="283.41" x2="465.8" y2="283.41" stroke="#111" stroke-width="0.7"/>
<line x1="359.8" y1="254" x2="359.8" y2="329.3" stroke="#000" stroke-width="0.8"/>
<line x1="357.8" y1="328.9" x2="359.8" y2="328.9" stroke="#000" stroke-width="0.72"/>
<text x="356.8" y="330.96" font-size="5.8" font-weight="bold" text-anchor="end" stroke="#000" stroke-width="0.1">0</text>
<line x1="357.8" y1="319.56" x2="359.8" y2="319.56" stroke="#000" stroke-width="0.72"/>
<text x="356.8" y="321.62" font-size="5.8" font-weight="bold" text-anchor="end" stroke="#000" stroke-width="0.1">10</text>
<line x1="357.8" y1="310.22" x2="359.8" y2="310.22" stroke="#000" stroke-width="0.72"/>
<text x="356.8" y="312.28" font-size="5.8" font-weight="bold" text-anchor="end" stroke="#000" stroke-width="0.1">20</text>
<line x1="357.8" y1="300.88" x2="359.8" y2="300.88" stroke="#000" stroke-width="0.72"/>
<text x="356.8" y="302.94" font-size="5.8" font-weight="bold" text-anchor="end" stroke="#000" stroke-width="0.1">30</text>
<line x1="357.8" y1="291.54" x2="359.8" y2="291.54" stroke="#000" stroke-width="0.72"/>
<text x="356.8" y="293.6" font-size="5.8" font-weight="bold" text-anchor="end" stroke="#000" stroke-width="0.1">40</text>
<line x1="357.8" y1="282.2" x2="359.8" y2="282.2" stroke="#000" stroke-width="0.72"/>
<text x="356.8" y="284.26" font-size="5.8" font-weight="bold" text-anchor="end" stroke="#000" stroke-width="0.1">50</text>
<line x1="357.8" y1="272.86" x2="359.8" y2="272.86" stroke="#000" stroke-width="0.72"/>
<text x="356.8" y="274.92" font-size="5.8" font-weight="bold" text-anchor="end" stroke="#000" stroke-width="0.1">60</text>
<line x1="357.8" y1="263.52" x2="359.8" y2="263.52" stroke="#000" stroke-width="0.72"/>
<text x="356.8" y="265.58" font-size="5.8" font-weight="bold" text-anchor="end" stroke="#000" stroke-width="0.1">70</text>
<line x1="357.8" y1="254.18" x2="359.8" y2="254.18" stroke="#000" stroke-width="0.72"/>
<text x="356.8" y="256.24" font-size="5.8" font-weight="bold" text-anchor="end" stroke="#000" stroke-width="0.1">80</text>
<line x1="359.8" y1="328.9" x2="471" y2="328.9" stroke="#000" stroke-width="0.8"/>
<text x="375.6" y="335.92" font-size="5.4" font-weight="bold" text-anchor="middle" stroke="#000" stroke-width="0.1">Day 3</text>
<text x="403.3" y="335.92" font-size="5.4" font-weight="bold" text-anchor="middle" stroke="#000" stroke-width="0.1">Day 5</text>
<text x="431" y="335.92" font-size="5.4" font-weight="bold" text-anchor="middle" stroke="#000" stroke-width="0.1">Day 7</text>
<text x="458.7" y="335.92" font-size="5.4" font-weight="bold" text-anchor="middle" stroke="#000" stroke-width="0.1">Day 9</text>
<path d="M397.4,287 L397.4,273.5 L408.3,273.5 L408.3,280.5" fill="none" stroke="#222" stroke-width="0.7"/>
<text x="402.85" y="274.67" font-size="9.5" font-weight="bold" text-anchor="middle" fill="#444">***</text>
<path d="M426.8,299.8 L426.8,288 L437,288 L437,292.5" fill="none" stroke="#222" stroke-width="0.7"/>
<text x="431.9" y="289.17" font-size="9.5" font-weight="bold" text-anchor="middle" fill="#444">**</text>
<path d="M455.3,285.1 L455.3,272.7 L465.9,272.7 L465.9,277.1" fill="none" stroke="#222" stroke-width="0.7"/>
<text x="460.6" y="273.87" font-size="9.5" font-weight="bold" text-anchor="middle" fill="#444">****</text>
<text x="347.3" y="293.24" font-size="6.3" font-weight="bold" text-anchor="middle" stroke="#000" stroke-width="0.1" transform="rotate(-90 347.3 291)">TIL (CD45<tspan font-size="4.2" dy="-2">+</tspan><tspan dy="2"> % in live cells)</tspan></text>
<text x="2.6" y="365.06" font-size="16.5" font-weight="bold">G</text>
<text x="53.9" y="371.21" font-size="9.6" font-weight="bold" font-style="italic" textLength="89.2" lengthAdjust="spacingAndGlyphs">Ptprc (CD45) - RNA</text>
<rect x="47" y="433.74" width="9" height="24.46" fill="#a7b5b1" stroke="#1a1a1a" stroke-width="0.8"/>
<rect x="58.8" y="435.34" width="9" height="22.86" fill="url(#hatchG)" stroke="#1a1a1a" stroke-width="0.8"/>
<rect x="70.7" y="420.91" width="9" height="37.29" fill="#2a7ab9" stroke="#1a1a1a" stroke-width="0.8"/>
<rect x="82.8" y="433.34" width="9" height="24.86" fill="url(#hatchG)" stroke="#1a1a1a" stroke-width="0.8"/>
<rect x="94.9" y="407.27" width="9" height="50.93" fill="#2a7ab9" stroke="#1a1a1a" stroke-width="0.8"/>
<rect x="106.7" y="435.74" width="9" height="22.46" fill="url(#hatchG)" stroke="#1a1a1a" stroke-width="0.8"/>
<rect x="118.4" y="416.9" width="9" height="41.3" fill="#2a7ab9" stroke="#1a1a1a" stroke-width="0.8"/>
<rect x="130.6" y="435.34" width="9" height="22.86" fill="url(#hatchG)" stroke="#1a1a1a" stroke-width="0.8"/>
<rect x="142.5" y="415.29" width="9" height="42.91" fill="#2a7ab9" stroke="#1a1a1a" stroke-width="0.8"/>
<line x1="51.5" y1="433.74" x2="51.5" y2="432.13" stroke="#111" stroke-width="0.8"/>
<line x1="49.5" y1="432.13" x2="53.5" y2="432.13" stroke="#111" stroke-width="0.8"/>
<circle cx="51.5" cy="428.53" r="0.95" fill="#111"/>
<circle cx="49.26" cy="430.13" r="0.95" fill="#111"/>
<circle cx="53.74" cy="431.73" r="0.95" fill="#111"/>
<circle cx="50.54" cy="433.34" r="0.95" fill="#111"/>
<circle cx="52.62" cy="434.14" r="0.95" fill="#111"/>
<circle cx="48.78" cy="435.74" r="0.95" fill="#111"/>
<circle cx="54.14" cy="438.15" r="0.95" fill="#111"/>
<circle cx="51.66" cy="440.56" r="0.95" fill="#111"/>
<line x1="63.3" y1="435.34" x2="63.3" y2="433.74" stroke="#111" stroke-width="0.8"/>
<line x1="61.3" y1="433.74" x2="65.3" y2="433.74" stroke="#111" stroke-width="0.8"/>
<circle cx="63.3" cy="430.13" r="0.95" fill="#111"/>
<circle cx="61.06" cy="430.13" r="0.95" fill="#111"/>
<circle cx="65.54" cy="432.54" r="0.95" fill="#111"/>
<circle cx="62.34" cy="434.14" r="0.95" fill="#111"/>
<circle cx="64.42" cy="435.74" r="0.95" fill="#111"/>
<circle cx="60.58" cy="436.55" r="0.95" fill="#111"/>
<circle cx="65.94" cy="439.75" r="0.95" fill="#111"/>
<line x1="75.2" y1="420.91" x2="75.2" y2="419.3" stroke="#111" stroke-width="0.8"/>
<line x1="73.2" y1="419.3" x2="77.2" y2="419.3" stroke="#111" stroke-width="0.8"/>
<path d="M75.2,413.19 l0.9,1.5 l-1.8,0 Z" fill="#111"/>
<path d="M72.96,413.19 l0.9,1.5 l-1.8,0 Z" fill="#111"/>
<path d="M77.44,418.8 l0.9,1.5 l-1.8,0 Z" fill="#111"/>
<path d="M74.24,420.41 l0.9,1.5 l-1.8,0 Z" fill="#111"/>
<path d="M76.32,422.01 l0.9,1.5 l-1.8,0 Z" fill="#111"/>
<path d="M72.48,423.62 l0.9,1.5 l-1.8,0 Z" fill="#111"/>
<line x1="87.3" y1="433.34" x2="87.3" y2="431.73" stroke="#111" stroke-width="0.8"/>
<line x1="85.3" y1="431.73" x2="89.3" y2="431.73" stroke="#111" stroke-width="0.8"/>
<circle cx="87.3" cy="424.52" r="0.95" fill="#111"/>
<circle cx="85.06" cy="425.32" r="0.95" fill="#111"/>
<circle cx="89.54" cy="427.72" r="0.95" fill="#111"/>
<circle cx="86.34" cy="429.33" r="0.95" fill="#111"/>
<circle cx="88.42" cy="430.93" r="0.95" fill="#111"/>
<circle cx="84.58" cy="431.73" r="0.95" fill="#111"/>
<circle cx="89.94" cy="432.54" r="0.95" fill="#111"/>
<circle cx="87.46" cy="434.14" r="0.95" fill="#111"/>
<circle cx="85.7" cy="435.74" r="0.95" fill="#111"/>
<line x1="99.4" y1="407.27" x2="99.4" y2="406.07" stroke="#111" stroke-width="0.8"/>
<line x1="97.4" y1="406.07" x2="101.4" y2="406.07" stroke="#111" stroke-width="0.8"/>
<path d="M99.4,403.57 l0.9,1.5 l-1.8,0 Z" fill="#111"/>
<path d="M97.16,404.37 l0.9,1.5 l-1.8,0 Z" fill="#111"/>
<path d="M101.64,405.17 l0.9,1.5 l-1.8,0 Z" fill="#111"/>
<path d="M98.44,405.97 l0.9,1.5 l-1.8,0 Z" fill="#111"/>
<path d="M100.52,406.77 l0.9,1.5 l-1.8,0 Z" fill="#111"/>
<path d="M96.68,407.58 l0.9,1.5 l-1.8,0 Z" fill="#111"/>
<path d="M102.04,408.38 l0.9,1.5 l-1.8,0 Z" fill="#111"/>
<path d="M99.56,409.18 l0.9,1.5 l-1.8,0 Z" fill="#111"/>
<path d="M97.8,411.59 l0.9,1.5 l-1.8,0 Z" fill="#111"/>
<path d="M101.16,413.19 l0.9,1.5 l-1.8,0 Z" fill="#111"/>
<line x1="111.2" y1="435.74" x2="111.2" y2="433.34" stroke="#111" stroke-width="0.8"/>
<line x1="109.2" y1="433.34" x2="113.2" y2="433.34" stroke="#111" stroke-width="0.8"/>
<circle cx="111.2" cy="426.12" r="0.95" fill="#111"/>
<circle cx="108.96" cy="426.12" r="0.95" fill="#111"/>
<circle cx="113.44" cy="428.53" r="0.95" fill="#111"/>
<circle cx="110.24" cy="430.13" r="0.95" fill="#111"/>
<circle cx="112.32" cy="431.73" r="0.95" fill="#111"/>
<circle cx="108.48" cy="434.14" r="0.95" fill="#111"/>
<circle cx="113.84" cy="436.55" r="0.95" fill="#111"/>
<circle cx="111.36" cy="438.15" r="0.95" fill="#111"/>
<circle cx="109.6" cy="440.56" r="0.95" fill="#111"/>
<circle cx="112.96" cy="442.16" r="0.95" fill="#111"/>
<circle cx="110.8" cy="443.76" r="0.95" fill="#111"/>
<line x1="122.9" y1="416.9" x2="122.9" y2="415.29" stroke="#111" stroke-width="0.8"/>
<line x1="120.9" y1="415.29" x2="124.9" y2="415.29" stroke="#111" stroke-width="0.8"/>
<path d="M122.9,408.38 l0.9,1.5 l-1.8,0 Z" fill="#111"/>
<path d="M120.66,410.78 l0.9,1.5 l-1.8,0 Z" fill="#111"/>
<path d="M125.14,412.39 l0.9,1.5 l-1.8,0 Z" fill="#111"/>
<path d="M121.94,413.19 l0.9,1.5 l-1.8,0 Z" fill="#111"/>
<path d="M124.02,413.99 l0.9,1.5 l-1.8,0 Z" fill="#111"/>
<path d="M120.18,414.79 l0.9,1.5 l-1.8,0 Z" fill="#111"/>
<path d="M125.54,416.4 l0.9,1.5 l-1.8,0 Z" fill="#111"/>
<path d="M123.06,417.2 l0.9,1.5 l-1.8,0 Z" fill="#111"/>
<path d="M121.3,418.8 l0.9,1.5 l-1.8,0 Z" fill="#111"/>
<path d="M124.66,419.61 l0.9,1.5 l-1.8,0 Z" fill="#111"/>
<line x1="135.1" y1="435.34" x2="135.1" y2="432.54" stroke="#111" stroke-width="0.8"/>
<line x1="133.1" y1="432.54" x2="137.1" y2="432.54" stroke="#111" stroke-width="0.8"/>
<circle cx="135.1" cy="424.52" r="0.95" fill="#111"/>
<circle cx="132.86" cy="426.12" r="0.95" fill="#111"/>
<circle cx="137.34" cy="428.53" r="0.95" fill="#111"/>
<circle cx="134.14" cy="430.93" r="0.95" fill="#111"/>
<circle cx="136.22" cy="433.34" r="0.95" fill="#111"/>
<circle cx="132.38" cy="435.74" r="0.95" fill="#111"/>
<circle cx="137.74" cy="436.55" r="0.95" fill="#111"/>
<circle cx="135.26" cy="438.15" r="0.95" fill="#111"/>
<circle cx="133.5" cy="442.16" r="0.95" fill="#111"/>
<circle cx="136.86" cy="443.76" r="0.95" fill="#111"/>
<line x1="147" y1="415.29" x2="147" y2="412.89" stroke="#111" stroke-width="0.8"/>
<line x1="145" y1="412.89" x2="149" y2="412.89" stroke="#111" stroke-width="0.8"/>
<path d="M147,397.15 l0.9,1.5 l-1.8,0 Z" fill="#111"/>
<path d="M144.76,409.18 l0.9,1.5 l-1.8,0 Z" fill="#111"/>
<path d="M149.24,410.78 l0.9,1.5 l-1.8,0 Z" fill="#111"/>
<path d="M146.04,413.19 l0.9,1.5 l-1.8,0 Z" fill="#111"/>
<path d="M148.12,414.79 l0.9,1.5 l-1.8,0 Z" fill="#111"/>
<path d="M144.28,419.61 l0.9,1.5 l-1.8,0 Z" fill="#111"/>
<path d="M149.64,421.21 l0.9,1.5 l-1.8,0 Z" fill="#111"/>
<path d="M147.16,422.81 l0.9,1.5 l-1.8,0 Z" fill="#111"/>
<line x1="45.5" y1="386.7" x2="45.5" y2="458.6" stroke="#000" stroke-width="0.8"/>
<line x1="43.5" y1="458.2" x2="45.5" y2="458.2" stroke="#000" stroke-width="0.72"/>
<text x="42.5" y="460.12" font-size="5.4" font-weight="bold" text-anchor="end" stroke="#000" stroke-width="0.1">0</text>
<line x1="43.5" y1="442.16" x2="45.5" y2="442.16" stroke="#000" stroke-width="0.72"/>
<text x="42.5" y="444.08" font-size="5.4" font-weight="bold" text-anchor="end" stroke="#000" stroke-width="0.1">20</text>
<line x1="43.5" y1="426.12" x2="45.5" y2="426.12" stroke="#000" stroke-width="0.72"/>
<text x="42.5" y="428.04" font-size="5.4" font-weight="bold" text-anchor="end" stroke="#000" stroke-width="0.1">40</text>
<line x1="43.5" y1="410.08" x2="45.5" y2="410.08" stroke="#000" stroke-width="0.72"/>
<text x="42.5" y="412" font-size="5.4" font-weight="bold" text-anchor="end" stroke="#000" stroke-width="0.1">60</text>
<line x1="43.5" y1="394.04" x2="45.5" y2="394.04" stroke="#000" stroke-width="0.72"/>
<text x="42.5" y="395.96" font-size="5.4" font-weight="bold" text-anchor="end" stroke="#000" stroke-width="0.1">80</text>
<line x1="45.5" y1="458.2" x2="153.5" y2="458.2" stroke="#000" stroke-width="0.9"/>
<text x="51.5" y="468.19" font-size="5.6" font-weight="bold" text-anchor="middle" stroke="#000" stroke-width="0.1">UT</text>
<text x="63.3" y="468.19" font-size="5.6" font-weight="bold" text-anchor="middle" stroke="#000" stroke-width="0.1">V</text>
<text x="75.2" y="468.19" font-size="5.6" font-weight="bold" text-anchor="middle" stroke="#000" stroke-width="0.1">106</text>
<text x="87.3" y="468.19" font-size="5.6" font-weight="bold" text-anchor="middle" stroke="#000" stroke-width="0.1">V</text>
<text x="99.4" y="468.19" font-size="5.6" font-weight="bold" text-anchor="middle" stroke="#000" stroke-width="0.1">106</text>
<text x="111.2" y="468.19" font-size="5.6" font-weight="bold" text-anchor="middle" stroke="#000" stroke-width="0.1">V</text>
<text x="122.9" y="468.19" font-size="5.6" font-weight="bold" text-anchor="middle" stroke="#000" stroke-width="0.1">106</text>
<text x="135.1" y="468.19" font-size="5.6" font-weight="bold" text-anchor="middle" stroke="#000" stroke-width="0.1">V</text>
<text x="147" y="468.19" font-size="5.6" font-weight="bold" text-anchor="middle" stroke="#000" stroke-width="0.1">106</text>
<path d="M59.5,471.5 L59.5,473.8 L79,473.8 L79,471.5" fill="none" stroke="#000" stroke-width="0.7"/>
<text x="69.25" y="482.99" font-size="5.6" font-weight="bold" text-anchor="middle" stroke="#000" stroke-width="0.1">Day 3</text>
<path d="M83.5,471.5 L83.5,473.8 L102.5,473.8 L102.5,471.5" fill="none" stroke="#000" stroke-width="0.7"/>
<text x="93" y="482.99" font-size="5.6" font-weight="bold" text-anchor="middle" stroke="#000" stroke-width="0.1">Day 5</text>
<path d="M107.5,471.5 L107.5,473.8 L126.8,473.8 L126.8,471.5" fill="none" stroke="#000" stroke-width="0.7"/>
<text x="117.15" y="482.99" font-size="5.6" font-weight="bold" text-anchor="middle" stroke="#000" stroke-width="0.1">Day 7</text>
<path d="M131.3,471.5 L131.3,473.8 L150.8,473.8 L150.8,471.5" fill="none" stroke="#000" stroke-width="0.7"/>
<text x="141.05" y="482.99" font-size="5.6" font-weight="bold" text-anchor="middle" stroke="#000" stroke-width="0.1">Day 9</text>
<path d="M63.3,405 L63.3,388.3 L75.2,388.3 L75.2,397" fill="none" stroke="#111" stroke-width="0.8"/>
<text x="69.25" y="387.69" font-size="7" font-weight="bold" text-anchor="middle" fill="#555" stroke="#555" stroke-width="0.1">*</text>
<path d="M87.3,401 L87.3,388.3 L99.4,388.3 L99.4,393" fill="none" stroke="#111" stroke-width="0.8"/>
<text x="93.35" y="387.69" font-size="7" font-weight="bold" text-anchor="middle" fill="#555" stroke="#555" stroke-width="0.1">***</text>
<path d="M111.2,405 L111.2,388.3 L122.9,388.3 L122.9,397" fill="none" stroke="#111" stroke-width="0.8"/>
<text x="117.05" y="387.69" font-size="7" font-weight="bold" text-anchor="middle" fill="#555" stroke="#555" stroke-width="0.1">*</text>
<path d="M135.1,405 L135.1,388.3 L147,388.3 L147,397" fill="none" stroke="#111" stroke-width="0.8"/>
<text x="141.05" y="387.69" font-size="7" font-weight="bold" text-anchor="middle" fill="#555" stroke="#555" stroke-width="0.1">****</text>
<text x="30.7" y="422.41" font-size="5.65" font-weight="bold" text-anchor="middle" textLength="69.8" lengthAdjust="spacingAndGlyphs" stroke="#000" stroke-width="0.1" transform="rotate(-90 30.7 420.4)">mRNA expression (FPKM)</text>
<text x="170.6" y="364.06" font-size="16.5" font-weight="bold">H</text>
<text x="306.8" y="361.44" font-size="5.18" text-anchor="end" stroke="#000" stroke-width="0.16">Immune response</text>
<text x="306.8" y="367.1" font-size="5.18" text-anchor="end" stroke="#000" stroke-width="0.16">Immune system process</text>
<text x="306.8" y="372.77" font-size="5.18" text-anchor="end" stroke="#000" stroke-width="0.16">Leukocyte activation</text>
<text x="306.8" y="378.43" font-size="5.18" text-anchor="end" stroke="#000" stroke-width="0.16">Regulation of immune system process</text>
<text x="306.8" y="384.1" font-size="5.18" text-anchor="end" stroke="#000" stroke-width="0.16">Cell activation</text>
<text x="306.8" y="389.76" font-size="5.18" text-anchor="end" stroke="#000" stroke-width="0.16">Positive regulation of immune system pro...</text>
<text x="306.8" y="395.43" font-size="5.18" text-anchor="end" stroke="#000" stroke-width="0.16">Regulation of immune response</text>
<text x="306.8" y="401.09" font-size="5.18" text-anchor="end" stroke="#000" stroke-width="0.16">Positive regulation of immune response</text>
<text x="306.8" y="406.76" font-size="5.18" text-anchor="end" stroke="#000" stroke-width="0.16">Activation of immune response</text>
<text x="306.8" y="412.42" font-size="5.18" text-anchor="end" stroke="#000" stroke-width="0.16">Defense response</text>
<text x="306.8" y="418.09" font-size="5.18" text-anchor="end" stroke="#000" stroke-width="0.16">Immune response-activating signal transd...</text>
<text x="306.8" y="423.75" font-size="5.18" text-anchor="end" stroke="#000" stroke-width="0.16">Regulation of response to stimulus</text>
<text x="306.8" y="429.42" font-size="5.18" text-anchor="end" stroke="#000" stroke-width="0.16">Immune response-regulating signaling pat...</text>
<text x="306.8" y="435.08" font-size="5.18" text-anchor="end" stroke="#000" stroke-width="0.16">Lymphocyte activation</text>
<text x="306.8" y="440.75" font-size="5.18" text-anchor="end" stroke="#000" stroke-width="0.16">Response to stimulus</text>
<text x="306.8" y="446.41" font-size="5.18" text-anchor="end" stroke="#000" stroke-width="0.16">Antigen receptor mediated signaling path...</text>
<text x="306.8" y="452.08" font-size="5.18" text-anchor="end" stroke="#000" stroke-width="0.16">Myeloid leukocyte activation</text>
<text x="306.8" y="457.74" font-size="5.18" text-anchor="end" stroke="#000" stroke-width="0.16">Immune response-activating cell surface ...</text>
<text x="306.8" y="463.41" font-size="5.18" text-anchor="end" stroke="#000" stroke-width="0.16">Leukocyte differentiation</text>
<text x="306.8" y="469.07" font-size="5.18" text-anchor="end" stroke="#000" stroke-width="0.16">Regulation of leukocyte activation</text>
<rect x="318.2" y="356.75" width="146.8" height="5.1" fill="#eb5157" stroke="#7a2b30" stroke-width="0.6"/>
<rect x="318.2" y="362.35" width="146.8" height="5.1" fill="#eb5157" stroke="#7a2b30" stroke-width="0.6"/>
<rect x="318.2" y="367.95" width="125" height="5.1" fill="#eb5157" stroke="#7a2b30" stroke-width="0.6"/>
<rect x="318.2" y="373.55" width="119.5" height="5.1" fill="#eb5157" stroke="#7a2b30" stroke-width="0.6"/>
<rect x="318.2" y="379.15" width="118.4" height="5.1" fill="#c4c4c4" stroke="#5a5a5a" stroke-width="0.6"/>
<rect x="318.2" y="384.75" width="114.4" height="5.1" fill="#eb5157" stroke="#7a2b30" stroke-width="0.6"/>
<rect x="318.2" y="390.35" width="109.6" height="5.1" fill="#eb5157" stroke="#7a2b30" stroke-width="0.6"/>
<rect x="318.2" y="395.95" width="107.1" height="5.1" fill="#eb5157" stroke="#7a2b30" stroke-width="0.6"/>
<rect x="318.2" y="401.55" width="97.9" height="5.1" fill="#eb5157" stroke="#7a2b30" stroke-width="0.6"/>
<rect x="318.2" y="407.15" width="95.2" height="5.1" fill="#eb5157" stroke="#7a2b30" stroke-width="0.6"/>
<rect x="318.2" y="412.75" width="95.2" height="5.1" fill="#eb5157" stroke="#7a2b30" stroke-width="0.6"/>
<rect x="318.2" y="418.35" width="91.5" height="5.1" fill="#c4c4c4" stroke="#5a5a5a" stroke-width="0.6"/>
<rect x="318.2" y="423.95" width="89.1" height="5.1" fill="#eb5157" stroke="#7a2b30" stroke-width="0.6"/>
<rect x="318.2" y="429.55" width="88.8" height="5.1" fill="#eb5157" stroke="#7a2b30" stroke-width="0.6"/>
<rect x="318.2" y="435.15" width="87.3" height="5.1" fill="#c4c4c4" stroke="#5a5a5a" stroke-width="0.6"/>
<rect x="318.2" y="440.75" width="84.3" height="5.1" fill="#c4c4c4" stroke="#5a5a5a" stroke-width="0.6"/>
<rect x="318.2" y="446.35" width="82.2" height="5.1" fill="#eb5157" stroke="#7a2b30" stroke-width="0.6"/>
<rect x="318.2" y="451.95" width="81.6" height="5.1" fill="#eb5157" stroke="#7a2b30" stroke-width="0.6"/>
<rect x="318.2" y="457.55" width="80.9" height="5.1" fill="#eb5157" stroke="#7a2b30" stroke-width="0.6"/>
<rect x="318.2" y="463.15" width="76" height="5.1" fill="#eb5157" stroke="#7a2b30" stroke-width="0.6"/>
<line x1="317.7" y1="473.8" x2="445.5" y2="473.8" stroke="#444" stroke-width="0.8"/>
<line x1="317.7" y1="473.8" x2="317.7" y2="478" stroke="#444" stroke-width="0.8"/>
<text x="317.7" y="486.96" font-size="4.4" text-anchor="middle" fill="#222" stroke="#222" stroke-width="0.16" transform="rotate(-90 317.7 485.4)">0</text>
<line x1="339" y1="473.8" x2="339" y2="478" stroke="#444" stroke-width="0.8"/>
<text x="339" y="486.96" font-size="4.4" text-anchor="middle" fill="#222" stroke="#222" stroke-width="0.16" transform="rotate(-90 339 485.4)">10</text>
<line x1="360.3" y1="473.8" x2="360.3" y2="478" stroke="#444" stroke-width="0.8"/>
<text x="360.3" y="486.96" font-size="4.4" text-anchor="middle" fill="#222" stroke="#222" stroke-width="0.16" transform="rotate(-90 360.3 485.4)">20</text>
<line x1="381.6" y1="473.8" x2="381.6" y2="478" stroke="#444" stroke-width="0.8"/>
<text x="381.6" y="486.96" font-size="4.4" text-anchor="middle" fill="#222" stroke="#222" stroke-width="0.16" transform="rotate(-90 381.6 485.4)">30</text>
<line x1="402.9" y1="473.8" x2="402.9" y2="478" stroke="#444" stroke-width="0.8"/>
<text x="402.9" y="486.96" font-size="4.4" text-anchor="middle" fill="#222" stroke="#222" stroke-width="0.16" transform="rotate(-90 402.9 485.4)">40</text>
<line x1="424.2" y1="473.8" x2="424.2" y2="478" stroke="#444" stroke-width="0.8"/>
<text x="424.2" y="486.96" font-size="4.4" text-anchor="middle" fill="#222" stroke="#222" stroke-width="0.16" transform="rotate(-90 424.2 485.4)">50</text>
<line x1="445.5" y1="473.8" x2="445.5" y2="478" stroke="#444" stroke-width="0.8"/>
<text x="445.5" y="486.96" font-size="4.4" text-anchor="middle" fill="#222" stroke="#222" stroke-width="0.16" transform="rotate(-90 445.5 485.4)">60</text>
<text x="380.3" y="499.44" font-size="8" font-weight="bold" text-anchor="middle" stroke="#000" stroke-width="0.1">-Log10(<tspan font-style="italic">P</tspan>-value)</text>
<rect x="414" y="442" width="6.2" height="5.4" fill="#eb5157" stroke="#7a2b30" stroke-width="0.55"/>
<rect x="414" y="451.4" width="6.2" height="5.4" fill="#c4c4c4" stroke="#555" stroke-width="0.55"/>
<text x="423.9" y="446.93" font-size="6" font-weight="bold" textLength="71.5" lengthAdjust="spacingAndGlyphs" stroke="#000" stroke-width="0.1">Immune-specific process</text>
<text x="423.9" y="456.53" font-size="6" font-weight="bold" textLength="85.3" lengthAdjust="spacingAndGlyphs" stroke="#000" stroke-width="0.1">Non-immune-specific process</text>
<rect x="11.4" y="493.6" width="2.9" height="9.2" fill="#000"/>
<g transform="translate(52.3 515.8) rotate(28.47)">
<path d="M2.2,-0.9 L16.68,-0.9 C17.28,-3.2 20.08,-3.0 19.08,-1.0 C20.48,0 20.48,0 19.08,1.0 C20.08,3.0 17.28,3.2 16.68,0.9 L2.2,0.9 C1.6,3.2 -1.2,3.0 -0.2,1.0 C-1.6,0 -1.6,0 -0.2,-1.0 C-1.2,-3.0 1.6,-3.2 2.2,-0.9 Z" fill="#fff" stroke="#888" stroke-width="0.6"/>
</g>
<g transform="translate(80 515.8) rotate(28.47)">
<path d="M2.2,-0.9 L16.68,-0.9 C17.28,-3.2 20.08,-3.0 19.08,-1.0 C20.48,0 20.48,0 19.08,1.0 C20.08,3.0 17.28,3.2 16.68,0.9 L2.2,0.9 C1.6,3.2 -1.2,3.0 -0.2,1.0 C-1.6,0 -1.6,0 -0.2,-1.0 C-1.2,-3.0 1.6,-3.2 2.2,-0.9 Z" fill="#fff" stroke="#888" stroke-width="0.6"/>
</g>
<text x="27.2" y="530.11" font-size="8.2" textLength="28.2" lengthAdjust="spacingAndGlyphs" stroke="#000" stroke-width="0.16">AMdKO</text>
<text x="27.2" y="540.91" font-size="8.2" textLength="27.8" lengthAdjust="spacingAndGlyphs" stroke="#000" stroke-width="0.16">CD45.2</text>
<text x="109.2" y="530.51" font-size="8.2" textLength="12.3" lengthAdjust="spacingAndGlyphs" stroke="#000" stroke-width="0.16">WT</text>
<text x="102" y="540.51" font-size="8.2" textLength="26.5" lengthAdjust="spacingAndGlyphs" stroke="#000" stroke-width="0.16">CD45.2</text>
<circle cx="62.3" cy="535" r="3" fill="#2a2a20" stroke="#0a0a0a" stroke-width="0.9"/>
<circle cx="70" cy="533.5" r="3" fill="#2a2a20" stroke="#0a0a0a" stroke-width="0.9"/>
<circle cx="65.6" cy="537.6" r="3" fill="#2a2a20" stroke="#0a0a0a" stroke-width="0.9"/>
<circle cx="60.8" cy="541.8" r="3" fill="#2a2a20" stroke="#0a0a0a" stroke-width="0.9"/>
<circle cx="64.8" cy="542" r="3" fill="#2a2a20" stroke="#0a0a0a" stroke-width="0.9"/>
<circle cx="69.2" cy="541.4" r="3" fill="#2a2a20" stroke="#0a0a0a" stroke-width="0.9"/>
<circle cx="65.4" cy="546.5" r="3" fill="#2a2a20" stroke="#0a0a0a" stroke-width="0.9"/>
<circle cx="70.8" cy="546.5" r="3" fill="#2a2a20" stroke="#0a0a0a" stroke-width="0.9"/>
<circle cx="61.8" cy="534.8" r="1.2" fill="#7c7a62"/>
<circle cx="69.5" cy="533.3" r="1.2" fill="#7c7a62"/>
<circle cx="65.1" cy="537.4" r="1.2" fill="#7c7a62"/>
<circle cx="60.3" cy="541.6" r="1.2" fill="#7c7a62"/>
<circle cx="64.3" cy="541.8" r="1.2" fill="#7c7a62"/>
<circle cx="68.7" cy="541.2" r="1.2" fill="#7c7a62"/>
<circle cx="64.9" cy="546.3" r="1.2" fill="#7c7a62"/>
<circle cx="70.3" cy="546.3" r="1.2" fill="#7c7a62"/>
<circle cx="91.5" cy="535.8" r="3" fill="#0d0d0d" stroke="#000" stroke-width="0.6"/>
<circle cx="97.7" cy="533.9" r="3" fill="#0d0d0d" stroke="#000" stroke-width="0.6"/>
<circle cx="87.7" cy="541.9" r="3" fill="#0d0d0d" stroke="#000" stroke-width="0.6"/>
<circle cx="92.3" cy="541.9" r="3" fill="#0d0d0d" stroke="#000" stroke-width="0.6"/>
<circle cx="96.9" cy="541.2" r="3" fill="#0d0d0d" stroke="#000" stroke-width="0.6"/>
<circle cx="92.3" cy="546.5" r="3" fill="#0d0d0d" stroke="#000" stroke-width="0.6"/>
<circle cx="98.5" cy="547.3" r="3" fill="#0d0d0d" stroke="#000" stroke-width="0.6"/>
<path d="M91.1,534.5 a1.5,1.5 0 1 1 0.3,2.0" fill="none" stroke="#fff" stroke-width="0.75"/>
<path d="M97.3,532.6 a1.5,1.5 0 1 1 0.3,2.0" fill="none" stroke="#fff" stroke-width="0.75"/>
<path d="M87.3,540.6 a1.5,1.5 0 1 1 0.3,2.0" fill="none" stroke="#fff" stroke-width="0.75"/>
<path d="M91.9,540.6 a1.5,1.5 0 1 1 0.3,2.0" fill="none" stroke="#fff" stroke-width="0.75"/>
<path d="M96.5,539.9 a1.5,1.5 0 1 1 0.3,2.0" fill="none" stroke="#fff" stroke-width="0.75"/>
<path d="M91.9,545.2 a1.5,1.5 0 1 1 0.3,2.0" fill="none" stroke="#fff" stroke-width="0.75"/>
<path d="M98.1,546 a1.5,1.5 0 1 1 0.3,2.0" fill="none" stroke="#fff" stroke-width="0.75"/>
<line x1="68.3" y1="554.5" x2="68.3" y2="570" stroke="#000" stroke-width="1.8"/>
<path d="M64.3,563.8 L68.3,570.6 L72.3,563.8" fill="none" stroke="#000" stroke-width="1.8" stroke-linejoin="miter"/>
<line x1="94.4" y1="554.5" x2="94.4" y2="570" stroke="#000" stroke-width="1.8"/>
<path d="M90.4,563.8 L94.4,570.6 L98.4,563.8" fill="none" stroke="#000" stroke-width="1.8" stroke-linejoin="miter"/>
<text x="42.6" y="600.72" font-size="8.8" textLength="12.6" lengthAdjust="spacingAndGlyphs" stroke="#000" stroke-width="0.16">WT</text>
<text x="35.4" y="609.92" font-size="8.8" textLength="27" lengthAdjust="spacingAndGlyphs" stroke="#000" stroke-width="0.16">CD45.1</text>
<g transform="translate(78.7 604.2) scale(1.06) translate(-35.5 -259)">
<path d="M37.0,246.0 C36.6,242.6 34.6,240.4 31.8,240.9 C28.4,241.5 25.2,244.6 21.6,246.3 C19.2,247.4 16.8,247.7 15.0,247.4" fill="none" stroke="#2a2a2a" stroke-width="1.5" stroke-linecap="round"/>
<path d="M37.0,246.0 C36.6,242.6 34.6,240.4 31.8,240.9 C28.4,241.5 25.2,244.6 21.6,246.3 C19.2,247.4 16.8,247.7 15.0,247.4" fill="none" stroke="#fff" stroke-width="0.55" stroke-linecap="round"/>
<path d="M24.6,257.5 C24.6,250.5 29.0,246.0 35.5,246.0 C42.0,246.0 46.4,250.5 46.4,257.5 L35.5,265 Z" fill="#fff" stroke="#2a2a2a" stroke-width="0.75"/>
<circle cx="28.3" cy="258.6" r="4.6" fill="#fff" stroke="#2a2a2a" stroke-width="0.75"/>
<circle cx="42.7" cy="258.6" r="4.6" fill="#fff" stroke="#2a2a2a" stroke-width="0.75"/>
<path d="M25.2,259.6 C25.0,256.0 28.0,254.3 31.0,255.6" fill="none" stroke="#666" stroke-width="0.55"/>
<path d="M45.8,259.6 C46.0,256.0 43.0,254.3 40.0,255.6" fill="none" stroke="#666" stroke-width="0.55"/>
<path d="M31.2,256.2 C33.5,255.2 37.5,255.2 39.8,256.2 L41.9,262.6 C40.2,266.6 37.6,270.2 35.5,272.2 C33.4,270.2 30.8,266.6 29.1,262.6 Z" fill="#fff"/>
<path d="M29.1,262.6 C30.8,266.6 33.4,270.2 35.5,272.2 C37.6,270.2 40.2,266.6 41.9,262.6" fill="none" stroke="#2a2a2a" stroke-width="0.75"/>
<circle cx="33" cy="265.5" r="1.1" fill="#111"/>
<circle cx="38.2" cy="265.5" r="1.1" fill="#111"/>
<path d="M34.0,269.9 L37.2,269.9 L35.6,272.0 Z" fill="#111"/>
<line x1="33.6" y1="269.6" x2="27.6" y2="268.2" stroke="#333" stroke-width="0.45"/>
<line x1="33.6" y1="270.2" x2="27.8" y2="271.6" stroke="#333" stroke-width="0.45"/>
<line x1="33.9" y1="270.6" x2="29.6" y2="273.8" stroke="#333" stroke-width="0.45"/>
<line x1="37.4" y1="269.6" x2="43.4" y2="268.2" stroke="#333" stroke-width="0.45"/>
<line x1="37.4" y1="270.2" x2="43.2" y2="271.6" stroke="#333" stroke-width="0.45"/>
<line x1="37.1" y1="270.6" x2="41.4" y2="273.8" stroke="#333" stroke-width="0.45"/>
</g>
<text x="78.7" y="627.53" font-size="6" text-anchor="middle" textLength="16" lengthAdjust="spacingAndGlyphs" stroke="#000" stroke-width="0.16">MC38</text>
<path d="M97.9,600.7 L96.9,600.7 L96.9,609.2 L97.9,609.2" fill="none" stroke="#444" stroke-width="0.6"/>
<line x1="104.6" y1="600.7" x2="107.6" y2="600.7" stroke="#666" stroke-width="0.8"/>
<line x1="104.6" y1="609.2" x2="107.6" y2="609.2" stroke="#666" stroke-width="0.8"/>
<path d="M109.6,600.7 L177.3,600.7 L177.3,596.88 L188.2,605 L177.3,613.03 L177.3,609.2 L109.6,609.2" fill="#fff" stroke="#555" stroke-width="1" stroke-linejoin="miter"/>
<text x="103.4" y="586.43" font-size="6" textLength="81.7" lengthAdjust="spacingAndGlyphs" stroke="#000" stroke-width="0.16">Vehicle or 30 mg/kg RXDX-106</text>
<line x1="113.1" y1="591.2" x2="113.1" y2="599" stroke="#111" stroke-width="1"/>
<path d="M111.1,596.6 L113.1,599.6 L115.1,596.6" fill="none" stroke="#111" stroke-width="1" stroke-linejoin="miter" stroke-linecap="butt"/>
<line x1="119.7" y1="591.2" x2="119.7" y2="599" stroke="#111" stroke-width="1"/>
<path d="M117.7,596.6 L119.7,599.6 L121.7,596.6" fill="none" stroke="#111" stroke-width="1" stroke-linejoin="miter" stroke-linecap="butt"/>
<line x1="126.4" y1="591.2" x2="126.4" y2="599" stroke="#111" stroke-width="1"/>
<path d="M124.4,596.6 L126.4,599.6 L128.4,596.6" fill="none" stroke="#111" stroke-width="1" stroke-linejoin="miter" stroke-linecap="butt"/>
<line x1="133.4" y1="591.2" x2="133.4" y2="599" stroke="#111" stroke-width="1"/>
<path d="M131.4,596.6 L133.4,599.6 L135.4,596.6" fill="none" stroke="#111" stroke-width="1" stroke-linejoin="miter" stroke-linecap="butt"/>
<line x1="140.5" y1="591.2" x2="140.5" y2="599" stroke="#111" stroke-width="1"/>
<path d="M138.5,596.6 L140.5,599.6 L142.5,596.6" fill="none" stroke="#111" stroke-width="1" stroke-linejoin="miter" stroke-linecap="butt"/>
<line x1="147.6" y1="591.2" x2="147.6" y2="599" stroke="#111" stroke-width="1"/>
<path d="M145.6,596.6 L147.6,599.6 L149.6,596.6" fill="none" stroke="#111" stroke-width="1" stroke-linejoin="miter" stroke-linecap="butt"/>
<line x1="154.6" y1="591.2" x2="154.6" y2="599" stroke="#111" stroke-width="1"/>
<path d="M152.6,596.6 L154.6,599.6 L156.6,596.6" fill="none" stroke="#111" stroke-width="1" stroke-linejoin="miter" stroke-linecap="butt"/>
<line x1="161.6" y1="591.2" x2="161.6" y2="599" stroke="#111" stroke-width="1"/>
<path d="M159.6,596.6 L161.6,599.6 L163.6,596.6" fill="none" stroke="#111" stroke-width="1" stroke-linejoin="miter" stroke-linecap="butt"/>
<line x1="168.5" y1="591.2" x2="168.5" y2="599" stroke="#111" stroke-width="1"/>
<path d="M166.5,596.6 L168.5,599.6 L170.5,596.6" fill="none" stroke="#111" stroke-width="1" stroke-linejoin="miter" stroke-linecap="butt"/>
<text x="113.1" y="607.39" font-size="5.6" text-anchor="middle" fill="#222" stroke="#222" stroke-width="0.16">18</text>
<text x="127" y="607.39" font-size="5.6" text-anchor="middle" fill="#222" stroke="#222" stroke-width="0.16">20</text>
<text x="140.6" y="607.39" font-size="5.6" text-anchor="middle" fill="#222" stroke="#222" stroke-width="0.16">22</text>
<text x="155" y="607.39" font-size="5.6" text-anchor="middle" fill="#222" stroke="#222" stroke-width="0.16">24</text>
<text x="168" y="607.39" font-size="5.6" text-anchor="middle" fill="#222" stroke="#222" stroke-width="0.16">26</text>
<text x="175" y="607.39" font-size="5.6" text-anchor="middle" fill="#222" stroke="#222" stroke-width="0.16">27</text>
<text x="190.4" y="607.93" font-size="6" textLength="14.3" lengthAdjust="spacingAndGlyphs" stroke="#000" stroke-width="0.16">Days</text>
<line x1="175.4" y1="611" x2="175.4" y2="619" stroke="#d7282f" stroke-width="0.7"/>
<path d="M173.4,616.6 L175.4,619.6 L177.4,616.6" fill="none" stroke="#d7282f" stroke-width="0.7" stroke-linejoin="miter" stroke-linecap="butt"/>
<line x1="113.1" y1="611" x2="113.1" y2="613.9" stroke="#333" stroke-width="0.5"/>
<text x="102.7" y="621.33" font-size="6" textLength="23.1" lengthAdjust="spacingAndGlyphs" stroke="#000" stroke-width="0.16">400 mm<tspan font-size="3.6" dy="-2">3</tspan></text>
<text x="152.8" y="627.53" font-size="6" textLength="45.7" lengthAdjust="spacingAndGlyphs" stroke="#000" stroke-width="0.16">Sample collection</text>
<text x="172" y="502.66" font-size="16.5" font-weight="bold">J</text>
<line x1="314.84" y1="600.11" x2="314.84" y2="604.38" stroke="#8a8a8a" stroke-width="0.7"/>
<line x1="313.54" y1="600.11" x2="316.14" y2="600.11" stroke="#8a8a8a" stroke-width="0.7"/>
<line x1="313.54" y1="604.38" x2="316.14" y2="604.38" stroke="#8a8a8a" stroke-width="0.7"/>
<line x1="322.46" y1="598.2" x2="322.46" y2="603.24" stroke="#8a8a8a" stroke-width="0.7"/>
<line x1="321.16" y1="598.2" x2="323.76" y2="598.2" stroke="#8a8a8a" stroke-width="0.7"/>
<line x1="321.16" y1="603.24" x2="323.76" y2="603.24" stroke="#8a8a8a" stroke-width="0.7"/>
<line x1="330.08" y1="594.38" x2="330.08" y2="600.95" stroke="#8a8a8a" stroke-width="0.7"/>
<line x1="328.78" y1="594.38" x2="331.38" y2="594.38" stroke="#8a8a8a" stroke-width="0.7"/>
<line x1="328.78" y1="600.95" x2="331.38" y2="600.95" stroke="#8a8a8a" stroke-width="0.7"/>
<line x1="337.7" y1="587.05" x2="337.7" y2="596.55" stroke="#8a8a8a" stroke-width="0.7"/>
<line x1="336.4" y1="587.05" x2="339" y2="587.05" stroke="#8a8a8a" stroke-width="0.7"/>
<line x1="336.4" y1="596.55" x2="339" y2="596.55" stroke="#8a8a8a" stroke-width="0.7"/>
<line x1="345.32" y1="578.42" x2="345.32" y2="591.37" stroke="#8a8a8a" stroke-width="0.7"/>
<line x1="344.02" y1="578.42" x2="346.62" y2="578.42" stroke="#8a8a8a" stroke-width="0.7"/>
<line x1="344.02" y1="591.37" x2="346.62" y2="591.37" stroke="#8a8a8a" stroke-width="0.7"/>
<line x1="352.94" y1="576.16" x2="352.94" y2="590.02" stroke="#8a8a8a" stroke-width="0.7"/>
<line x1="351.64" y1="576.16" x2="354.24" y2="576.16" stroke="#8a8a8a" stroke-width="0.7"/>
<line x1="351.64" y1="590.02" x2="354.24" y2="590.02" stroke="#8a8a8a" stroke-width="0.7"/>
<line x1="360.56" y1="567.53" x2="360.56" y2="584.84" stroke="#8a8a8a" stroke-width="0.7"/>
<line x1="359.26" y1="567.53" x2="361.86" y2="567.53" stroke="#8a8a8a" stroke-width="0.7"/>
<line x1="359.26" y1="584.84" x2="361.86" y2="584.84" stroke="#8a8a8a" stroke-width="0.7"/>
<line x1="368.18" y1="561.04" x2="368.18" y2="580.95" stroke="#8a8a8a" stroke-width="0.7"/>
<line x1="366.88" y1="561.04" x2="369.48" y2="561.04" stroke="#8a8a8a" stroke-width="0.7"/>
<line x1="366.88" y1="580.95" x2="369.48" y2="580.95" stroke="#8a8a8a" stroke-width="0.7"/>
<line x1="375.8" y1="554.55" x2="375.8" y2="577.05" stroke="#8a8a8a" stroke-width="0.7"/>
<line x1="374.5" y1="554.55" x2="377.1" y2="554.55" stroke="#8a8a8a" stroke-width="0.7"/>
<line x1="374.5" y1="577.05" x2="377.1" y2="577.05" stroke="#8a8a8a" stroke-width="0.7"/>
<line x1="383.42" y1="545.92" x2="383.42" y2="571.87" stroke="#8a8a8a" stroke-width="0.7"/>
<line x1="382.12" y1="545.92" x2="384.72" y2="545.92" stroke="#8a8a8a" stroke-width="0.7"/>
<line x1="382.12" y1="571.87" x2="384.72" y2="571.87" stroke="#8a8a8a" stroke-width="0.7"/>
<line x1="391.04" y1="531.94" x2="391.04" y2="563.49" stroke="#8a8a8a" stroke-width="0.7"/>
<line x1="389.74" y1="531.94" x2="392.34" y2="531.94" stroke="#8a8a8a" stroke-width="0.7"/>
<line x1="389.74" y1="563.49" x2="392.34" y2="563.49" stroke="#8a8a8a" stroke-width="0.7"/>
<line x1="314.84" y1="598.92" x2="314.84" y2="603.67" stroke="#47a847" stroke-width="0.7"/>
<line x1="313.54" y1="598.92" x2="316.14" y2="598.92" stroke="#47a847" stroke-width="0.7"/>
<line x1="313.54" y1="603.67" x2="316.14" y2="603.67" stroke="#47a847" stroke-width="0.7"/>
<line x1="322.46" y1="595.68" x2="322.46" y2="601.73" stroke="#47a847" stroke-width="0.7"/>
<line x1="321.16" y1="595.68" x2="323.76" y2="595.68" stroke="#47a847" stroke-width="0.7"/>
<line x1="321.16" y1="601.73" x2="323.76" y2="601.73" stroke="#47a847" stroke-width="0.7"/>
<line x1="330.08" y1="592.43" x2="330.08" y2="599.78" stroke="#47a847" stroke-width="0.7"/>
<line x1="328.78" y1="592.43" x2="331.38" y2="592.43" stroke="#47a847" stroke-width="0.7"/>
<line x1="328.78" y1="599.78" x2="331.38" y2="599.78" stroke="#47a847" stroke-width="0.7"/>
<line x1="337.7" y1="580.56" x2="337.7" y2="592.65" stroke="#47a847" stroke-width="0.7"/>
<line x1="336.4" y1="580.56" x2="339" y2="580.56" stroke="#47a847" stroke-width="0.7"/>
<line x1="336.4" y1="592.65" x2="339" y2="592.65" stroke="#47a847" stroke-width="0.7"/>
<line x1="345.32" y1="571.93" x2="345.32" y2="587.48" stroke="#47a847" stroke-width="0.7"/>
<line x1="344.02" y1="571.93" x2="346.62" y2="571.93" stroke="#47a847" stroke-width="0.7"/>
<line x1="344.02" y1="587.48" x2="346.62" y2="587.48" stroke="#47a847" stroke-width="0.7"/>
<line x1="352.94" y1="567.53" x2="352.94" y2="584.84" stroke="#47a847" stroke-width="0.7"/>
<line x1="351.64" y1="567.53" x2="354.24" y2="567.53" stroke="#47a847" stroke-width="0.7"/>
<line x1="351.64" y1="584.84" x2="354.24" y2="584.84" stroke="#47a847" stroke-width="0.7"/>
<line x1="360.56" y1="555.66" x2="360.56" y2="577.71" stroke="#47a847" stroke-width="0.7"/>
<line x1="359.26" y1="555.66" x2="361.86" y2="555.66" stroke="#47a847" stroke-width="0.7"/>
<line x1="359.26" y1="577.71" x2="361.86" y2="577.71" stroke="#47a847" stroke-width="0.7"/>
<line x1="368.18" y1="551.42" x2="368.18" y2="575.17" stroke="#47a847" stroke-width="0.7"/>
<line x1="366.88" y1="551.42" x2="369.48" y2="551.42" stroke="#47a847" stroke-width="0.7"/>
<line x1="366.88" y1="575.17" x2="369.48" y2="575.17" stroke="#47a847" stroke-width="0.7"/>
<line x1="375.8" y1="547.07" x2="375.8" y2="572.56" stroke="#47a847" stroke-width="0.7"/>
<line x1="374.5" y1="547.07" x2="377.1" y2="547.07" stroke="#47a847" stroke-width="0.7"/>
<line x1="374.5" y1="572.56" x2="377.1" y2="572.56" stroke="#47a847" stroke-width="0.7"/>
<line x1="383.42" y1="539.43" x2="383.42" y2="567.98" stroke="#47a847" stroke-width="0.7"/>
<line x1="382.12" y1="539.43" x2="384.72" y2="539.43" stroke="#47a847" stroke-width="0.7"/>
<line x1="382.12" y1="567.98" x2="384.72" y2="567.98" stroke="#47a847" stroke-width="0.7"/>
<line x1="391.04" y1="529.8" x2="391.04" y2="562.2" stroke="#47a847" stroke-width="0.7"/>
<line x1="389.74" y1="529.8" x2="392.34" y2="529.8" stroke="#47a847" stroke-width="0.7"/>
<line x1="389.74" y1="562.2" x2="392.34" y2="562.2" stroke="#47a847" stroke-width="0.7"/>
<line x1="314.84" y1="598.51" x2="314.84" y2="604.88" stroke="#d7282f" stroke-width="0.7"/>
<line x1="313.54" y1="598.51" x2="316.14" y2="598.51" stroke="#d7282f" stroke-width="0.7"/>
<line x1="313.54" y1="604.88" x2="316.14" y2="604.88" stroke="#d7282f" stroke-width="0.7"/>
<line x1="322.46" y1="596.78" x2="322.46" y2="604.05" stroke="#d7282f" stroke-width="0.7"/>
<line x1="321.16" y1="596.78" x2="323.76" y2="596.78" stroke="#d7282f" stroke-width="0.7"/>
<line x1="321.16" y1="604.05" x2="323.76" y2="604.05" stroke="#d7282f" stroke-width="0.7"/>
<line x1="330.08" y1="594.47" x2="330.08" y2="602.94" stroke="#d7282f" stroke-width="0.7"/>
<line x1="328.78" y1="594.47" x2="331.38" y2="594.47" stroke="#d7282f" stroke-width="0.7"/>
<line x1="328.78" y1="602.94" x2="331.38" y2="602.94" stroke="#d7282f" stroke-width="0.7"/>
<line x1="337.7" y1="594.47" x2="337.7" y2="602.94" stroke="#d7282f" stroke-width="0.7"/>
<line x1="336.4" y1="594.47" x2="339" y2="594.47" stroke="#d7282f" stroke-width="0.7"/>
<line x1="336.4" y1="602.94" x2="339" y2="602.94" stroke="#d7282f" stroke-width="0.7"/>
<line x1="345.32" y1="590.55" x2="345.32" y2="601.05" stroke="#d7282f" stroke-width="0.7"/>
<line x1="344.02" y1="590.55" x2="346.62" y2="590.55" stroke="#d7282f" stroke-width="0.7"/>
<line x1="344.02" y1="601.05" x2="346.62" y2="601.05" stroke="#d7282f" stroke-width="0.7"/>
<line x1="352.94" y1="590.55" x2="352.94" y2="601.05" stroke="#d7282f" stroke-width="0.7"/>
<line x1="351.64" y1="590.55" x2="354.24" y2="590.55" stroke="#d7282f" stroke-width="0.7"/>
<line x1="351.64" y1="601.05" x2="354.24" y2="601.05" stroke="#d7282f" stroke-width="0.7"/>
<line x1="360.56" y1="589.07" x2="360.56" y2="600.34" stroke="#d7282f" stroke-width="0.7"/>
<line x1="359.26" y1="589.07" x2="361.86" y2="589.07" stroke="#d7282f" stroke-width="0.7"/>
<line x1="359.26" y1="600.34" x2="361.86" y2="600.34" stroke="#d7282f" stroke-width="0.7"/>
<line x1="368.18" y1="586.38" x2="368.18" y2="599.04" stroke="#d7282f" stroke-width="0.7"/>
<line x1="366.88" y1="586.38" x2="369.48" y2="586.38" stroke="#d7282f" stroke-width="0.7"/>
<line x1="366.88" y1="599.04" x2="369.48" y2="599.04" stroke="#d7282f" stroke-width="0.7"/>
<line x1="375.8" y1="576.53" x2="375.8" y2="594.3" stroke="#d7282f" stroke-width="0.7"/>
<line x1="374.5" y1="576.53" x2="377.1" y2="576.53" stroke="#d7282f" stroke-width="0.7"/>
<line x1="374.5" y1="594.3" x2="377.1" y2="594.3" stroke="#d7282f" stroke-width="0.7"/>
<line x1="383.42" y1="575.83" x2="383.42" y2="593.96" stroke="#d7282f" stroke-width="0.7"/>
<line x1="382.12" y1="575.83" x2="384.72" y2="575.83" stroke="#d7282f" stroke-width="0.7"/>
<line x1="382.12" y1="593.96" x2="384.72" y2="593.96" stroke="#d7282f" stroke-width="0.7"/>
<line x1="391.04" y1="570.01" x2="391.04" y2="591.16" stroke="#d7282f" stroke-width="0.7"/>
<line x1="389.74" y1="570.01" x2="392.34" y2="570.01" stroke="#d7282f" stroke-width="0.7"/>
<line x1="389.74" y1="591.16" x2="392.34" y2="591.16" stroke="#d7282f" stroke-width="0.7"/>
<line x1="314.84" y1="603.14" x2="314.84" y2="606.49" stroke="#000" stroke-width="0.7"/>
<line x1="313.54" y1="603.14" x2="316.14" y2="603.14" stroke="#000" stroke-width="0.7"/>
<line x1="313.54" y1="606.49" x2="316.14" y2="606.49" stroke="#000" stroke-width="0.7"/>
<line x1="322.46" y1="601.34" x2="322.46" y2="605.48" stroke="#000" stroke-width="0.7"/>
<line x1="321.16" y1="601.34" x2="323.76" y2="601.34" stroke="#000" stroke-width="0.7"/>
<line x1="321.16" y1="605.48" x2="323.76" y2="605.48" stroke="#000" stroke-width="0.7"/>
<line x1="330.08" y1="597.5" x2="330.08" y2="603.32" stroke="#000" stroke-width="0.7"/>
<line x1="328.78" y1="597.5" x2="331.38" y2="597.5" stroke="#000" stroke-width="0.7"/>
<line x1="328.78" y1="603.32" x2="331.38" y2="603.32" stroke="#000" stroke-width="0.7"/>
<line x1="337.7" y1="590.97" x2="337.7" y2="599.65" stroke="#000" stroke-width="0.7"/>
<line x1="336.4" y1="590.97" x2="339" y2="590.97" stroke="#000" stroke-width="0.7"/>
<line x1="336.4" y1="599.65" x2="339" y2="599.65" stroke="#000" stroke-width="0.7"/>
<line x1="345.32" y1="582.02" x2="345.32" y2="594.61" stroke="#000" stroke-width="0.7"/>
<line x1="344.02" y1="582.02" x2="346.62" y2="582.02" stroke="#000" stroke-width="0.7"/>
<line x1="344.02" y1="594.61" x2="346.62" y2="594.61" stroke="#000" stroke-width="0.7"/>
<line x1="352.94" y1="582.02" x2="352.94" y2="594.61" stroke="#000" stroke-width="0.7"/>
<line x1="351.64" y1="582.02" x2="354.24" y2="582.02" stroke="#000" stroke-width="0.7"/>
<line x1="351.64" y1="594.61" x2="354.24" y2="594.61" stroke="#000" stroke-width="0.7"/>
<line x1="360.56" y1="576.51" x2="360.56" y2="591.51" stroke="#000" stroke-width="0.7"/>
<line x1="359.26" y1="576.51" x2="361.86" y2="576.51" stroke="#000" stroke-width="0.7"/>
<line x1="359.26" y1="591.51" x2="361.86" y2="591.51" stroke="#000" stroke-width="0.7"/>
<line x1="368.18" y1="564.97" x2="368.18" y2="585.02" stroke="#000" stroke-width="0.7"/>
<line x1="366.88" y1="564.97" x2="369.48" y2="564.97" stroke="#000" stroke-width="0.7"/>
<line x1="366.88" y1="585.02" x2="369.48" y2="585.02" stroke="#000" stroke-width="0.7"/>
<line x1="375.8" y1="557.03" x2="375.8" y2="580.56" stroke="#000" stroke-width="0.7"/>
<line x1="374.5" y1="557.03" x2="377.1" y2="557.03" stroke="#000" stroke-width="0.7"/>
<line x1="374.5" y1="580.56" x2="377.1" y2="580.56" stroke="#000" stroke-width="0.7"/>
<line x1="383.42" y1="545.89" x2="383.42" y2="574.29" stroke="#000" stroke-width="0.7"/>
<line x1="382.12" y1="545.89" x2="384.72" y2="545.89" stroke="#000" stroke-width="0.7"/>
<line x1="382.12" y1="574.29" x2="384.72" y2="574.29" stroke="#000" stroke-width="0.7"/>
<line x1="391.04" y1="532.2" x2="391.04" y2="566.59" stroke="#000" stroke-width="0.7"/>
<line x1="389.74" y1="532.2" x2="392.34" y2="532.2" stroke="#000" stroke-width="0.7"/>
<line x1="389.74" y1="566.59" x2="392.34" y2="566.59" stroke="#000" stroke-width="0.7"/>
<path d="M261.5,610.19 L291.98,608.97 L314.84,602.25 L322.46,600.72 L330.08,597.66 L337.7,591.8 L345.32,584.89 L352.94,583.09 L360.56,576.19 L368.18,570.99 L375.8,565.8 L383.42,558.9 L391.04,547.71" fill="none" stroke="#8a8a8a" stroke-width="1.1"/>
<rect x="260.2" y="608.89" width="2.6" height="2.6" fill="#8a8a8a"/>
<rect x="290.68" y="607.67" width="2.6" height="2.6" fill="#8a8a8a"/>
<rect x="313.54" y="600.95" width="2.6" height="2.6" fill="#8a8a8a"/>
<rect x="321.16" y="599.42" width="2.6" height="2.6" fill="#8a8a8a"/>
<rect x="328.78" y="596.36" width="2.6" height="2.6" fill="#8a8a8a"/>
<rect x="336.4" y="590.5" width="2.6" height="2.6" fill="#8a8a8a"/>
<rect x="344.02" y="583.59" width="2.6" height="2.6" fill="#8a8a8a"/>
<rect x="351.64" y="581.79" width="2.6" height="2.6" fill="#8a8a8a"/>
<rect x="359.26" y="574.89" width="2.6" height="2.6" fill="#8a8a8a"/>
<rect x="366.88" y="569.69" width="2.6" height="2.6" fill="#8a8a8a"/>
<rect x="374.5" y="564.5" width="2.6" height="2.6" fill="#8a8a8a"/>
<rect x="382.12" y="557.6" width="2.6" height="2.6" fill="#8a8a8a"/>
<rect x="389.74" y="546.41" width="2.6" height="2.6" fill="#8a8a8a"/>
<path d="M261.5,610.19 L291.98,608.97 L314.84,601.3 L322.46,598.7 L330.08,596.11 L337.7,586.6 L345.32,579.7 L352.94,576.19 L360.56,566.69 L368.18,563.29 L375.8,559.81 L383.42,553.7 L391.04,546" fill="none" stroke="#47a847" stroke-width="1.1"/>
<rect x="260.2" y="608.89" width="2.6" height="2.6" fill="#47a847"/>
<rect x="290.68" y="607.67" width="2.6" height="2.6" fill="#47a847"/>
<rect x="313.54" y="600" width="2.6" height="2.6" fill="#47a847"/>
<rect x="321.16" y="597.4" width="2.6" height="2.6" fill="#47a847"/>
<rect x="328.78" y="594.81" width="2.6" height="2.6" fill="#47a847"/>
<rect x="336.4" y="585.3" width="2.6" height="2.6" fill="#47a847"/>
<rect x="344.02" y="578.4" width="2.6" height="2.6" fill="#47a847"/>
<rect x="351.64" y="574.89" width="2.6" height="2.6" fill="#47a847"/>
<rect x="359.26" y="565.39" width="2.6" height="2.6" fill="#47a847"/>
<rect x="366.88" y="561.99" width="2.6" height="2.6" fill="#47a847"/>
<rect x="374.5" y="558.51" width="2.6" height="2.6" fill="#47a847"/>
<rect x="382.12" y="552.4" width="2.6" height="2.6" fill="#47a847"/>
<rect x="389.74" y="544.7" width="2.6" height="2.6" fill="#47a847"/>
<path d="M261.5,610.19 L291.98,608.66 L314.84,601.7 L322.46,600.41 L330.08,598.7 L337.7,598.7 L345.32,595.8 L352.94,595.8 L360.56,594.7 L368.18,592.71 L375.8,585.41 L383.42,584.89 L391.04,580.59" fill="none" stroke="#d7282f" stroke-width="1.1"/>
<rect x="260.2" y="608.89" width="2.6" height="2.6" fill="#d7282f"/>
<rect x="290.68" y="607.36" width="2.6" height="2.6" fill="#d7282f"/>
<rect x="313.54" y="600.4" width="2.6" height="2.6" fill="#d7282f"/>
<rect x="321.16" y="599.11" width="2.6" height="2.6" fill="#d7282f"/>
<rect x="328.78" y="597.4" width="2.6" height="2.6" fill="#d7282f"/>
<rect x="336.4" y="597.4" width="2.6" height="2.6" fill="#d7282f"/>
<rect x="344.02" y="594.5" width="2.6" height="2.6" fill="#d7282f"/>
<rect x="351.64" y="594.5" width="2.6" height="2.6" fill="#d7282f"/>
<rect x="359.26" y="593.4" width="2.6" height="2.6" fill="#d7282f"/>
<rect x="366.88" y="591.41" width="2.6" height="2.6" fill="#d7282f"/>
<rect x="374.5" y="584.11" width="2.6" height="2.6" fill="#d7282f"/>
<rect x="382.12" y="583.59" width="2.6" height="2.6" fill="#d7282f"/>
<rect x="389.74" y="579.29" width="2.6" height="2.6" fill="#d7282f"/>
<path d="M261.5,610.19 L291.98,608.97 L314.84,604.81 L322.46,603.41 L330.08,600.41 L337.7,595.31 L345.32,588.32 L352.94,588.32 L360.56,584.01 L368.18,575 L375.8,568.79 L383.42,560.09 L391.04,549.39" fill="none" stroke="#000" stroke-width="1.3"/>
<rect x="260.2" y="608.89" width="2.6" height="2.6" fill="#000"/>
<rect x="290.68" y="607.67" width="2.6" height="2.6" fill="#000"/>
<rect x="313.54" y="603.51" width="2.6" height="2.6" fill="#000"/>
<rect x="321.16" y="602.11" width="2.6" height="2.6" fill="#000"/>
<rect x="328.78" y="599.11" width="2.6" height="2.6" fill="#000"/>
<rect x="336.4" y="594.01" width="2.6" height="2.6" fill="#000"/>
<rect x="344.02" y="587.02" width="2.6" height="2.6" fill="#000"/>
<rect x="351.64" y="587.02" width="2.6" height="2.6" fill="#000"/>
<rect x="359.26" y="582.71" width="2.6" height="2.6" fill="#000"/>
<rect x="366.88" y="573.7" width="2.6" height="2.6" fill="#000"/>
<rect x="374.5" y="567.49" width="2.6" height="2.6" fill="#000"/>
<rect x="382.12" y="558.79" width="2.6" height="2.6" fill="#000"/>
<rect x="389.74" y="548.09" width="2.6" height="2.6" fill="#000"/>
<line x1="262" y1="524.3" x2="262" y2="611.38" stroke="#000" stroke-width="1.15"/>
<line x1="260" y1="610.8" x2="262" y2="610.8" stroke="#000" stroke-width="1.03"/>
<text x="259" y="613.04" font-size="6.3" font-weight="bold" text-anchor="end" stroke="#000" stroke-width="0.1">0</text>
<line x1="260" y1="580.25" x2="262" y2="580.25" stroke="#000" stroke-width="1.03"/>
<text x="259" y="582.49" font-size="6.3" font-weight="bold" text-anchor="end" stroke="#000" stroke-width="0.1">1,000</text>
<line x1="260" y1="549.7" x2="262" y2="549.7" stroke="#000" stroke-width="1.03"/>
<text x="259" y="551.94" font-size="6.3" font-weight="bold" text-anchor="end" stroke="#000" stroke-width="0.1">2,000</text>
<line x1="262" y1="610.8" x2="393.5" y2="610.8" stroke="#000" stroke-width="1.15"/>
<line x1="261.5" y1="610.8" x2="261.5" y2="612.8" stroke="#000" stroke-width="0.8"/>
<text x="261.5" y="621.11" font-size="6.5" font-weight="bold" text-anchor="middle" stroke="#000" stroke-width="0.1">10</text>
<line x1="276.74" y1="610.8" x2="276.74" y2="612.8" stroke="#000" stroke-width="0.8"/>
<text x="276.74" y="621.11" font-size="6.5" font-weight="bold" text-anchor="middle" stroke="#000" stroke-width="0.1">12</text>
<line x1="291.98" y1="610.8" x2="291.98" y2="612.8" stroke="#000" stroke-width="0.8"/>
<text x="291.98" y="621.11" font-size="6.5" font-weight="bold" text-anchor="middle" stroke="#000" stroke-width="0.1">14</text>
<line x1="307.22" y1="610.8" x2="307.22" y2="612.8" stroke="#000" stroke-width="0.8"/>
<text x="307.22" y="621.11" font-size="6.5" font-weight="bold" text-anchor="middle" stroke="#000" stroke-width="0.1">16</text>
<line x1="322.46" y1="610.8" x2="322.46" y2="612.8" stroke="#000" stroke-width="0.8"/>
<text x="322.46" y="621.11" font-size="6.5" font-weight="bold" text-anchor="middle" stroke="#000" stroke-width="0.1">18</text>
<line x1="337.7" y1="610.8" x2="337.7" y2="612.8" stroke="#000" stroke-width="0.8"/>
<text x="337.7" y="621.11" font-size="6.5" font-weight="bold" text-anchor="middle" stroke="#000" stroke-width="0.1">20</text>
<line x1="352.94" y1="610.8" x2="352.94" y2="612.8" stroke="#000" stroke-width="0.8"/>
<text x="352.94" y="621.11" font-size="6.5" font-weight="bold" text-anchor="middle" stroke="#000" stroke-width="0.1">22</text>
<line x1="368.18" y1="610.8" x2="368.18" y2="612.8" stroke="#000" stroke-width="0.8"/>
<text x="368.18" y="621.11" font-size="6.5" font-weight="bold" text-anchor="middle" stroke="#000" stroke-width="0.1">24</text>
<line x1="383.42" y1="610.8" x2="383.42" y2="612.8" stroke="#000" stroke-width="0.8"/>
<text x="383.42" y="621.11" font-size="6.5" font-weight="bold" text-anchor="middle" stroke="#000" stroke-width="0.1">26</text>
<text x="328.5" y="632.76" font-size="7.2" font-weight="bold" text-anchor="middle" textLength="93.9" lengthAdjust="spacingAndGlyphs" stroke="#000" stroke-width="0.1">Days after cell implantation</text>
<text x="235.6" y="570.52" font-size="7.1" font-weight="bold" text-anchor="middle" stroke="#000" stroke-width="0.1" transform="rotate(-90 235.6 568)">Tumor volume (mm<tspan font-size="4.8" dy="-2.6">3</tspan><tspan dy="2.6">)</tspan></text>
<line x1="321.8" y1="573.6" x2="321.8" y2="583.8" stroke="#d9434b" stroke-width="0.9"/>
<path d="M319.8,581.2 L321.8,584.4 L323.8,581.2" fill="none" stroke="#d9434b" stroke-width="0.9" stroke-linejoin="miter" stroke-linecap="butt"/>
<line x1="402.2" y1="529.6" x2="411.8" y2="529.6" stroke="#000" stroke-width="1.2"/>
<rect x="405.7" y="528.3" width="2.6" height="2.6" fill="#000"/>
<text x="414.7" y="532.18" font-size="7.27" fill="#111" textLength="64.9" lengthAdjust="spacingAndGlyphs" stroke="#111" stroke-width="0.16">WT Vehicle p.o. q.d.</text>
<line x1="402.2" y1="539.9" x2="411.8" y2="539.9" stroke="#d7282f" stroke-width="1.2"/>
<rect x="405.7" y="538.6" width="2.6" height="2.6" fill="#d7282f"/>
<text x="414.7" y="542.38" font-size="7" fill="#111" textLength="104.1" lengthAdjust="spacingAndGlyphs" stroke="#111" stroke-width="0.16">WT RXDX-106 30 mg/kg p.o. q.d.</text>
<line x1="402.2" y1="550.4" x2="411.8" y2="550.4" stroke="#8a8a8a" stroke-width="1.2"/>
<rect x="405.7" y="549.1" width="2.6" height="2.6" fill="#8a8a8a"/>
<text x="414.7" y="552.97" font-size="7.24" fill="#111" textLength="64" lengthAdjust="spacingAndGlyphs" stroke="#111" stroke-width="0.16">KO Vehicle p.o. q.d.</text>
<line x1="402.2" y1="560.6" x2="411.8" y2="560.6" stroke="#47a847" stroke-width="1.2"/>
<rect x="405.7" y="559.3" width="2.6" height="2.6" fill="#47a847"/>
<text x="414.7" y="563.1" font-size="7.04" fill="#111" textLength="104.1" lengthAdjust="spacingAndGlyphs" stroke="#111" stroke-width="0.16">KO RXDX-106 30 mg/kg p.o. q.d.</text>
<line x1="405.1" y1="567.6" x2="405.1" y2="575.2" stroke="#d9434b" stroke-width="0.9"/>
<path d="M403.3,572.8 L405.1,575.8 L406.9,572.8" fill="none" stroke="#d9434b" stroke-width="0.9" stroke-linejoin="miter" stroke-linecap="butt"/>
<text x="413" y="574.5" font-size="7.9" font-weight="bold" fill="#111" textLength="57" lengthAdjust="spacingAndGlyphs" stroke="#111" stroke-width="0.1">Treatment start</text>
<text x="3.8" y="660.16" font-size="16.5" font-weight="bold">K</text>
<rect x="38.7" y="712.46" width="9.5" height="49.14" fill="#111111" stroke="#111" stroke-width="0.9"/>
<line x1="43.45" y1="712.46" x2="43.45" y2="708.95" stroke="#111" stroke-width="0.9"/>
<line x1="40.85" y1="708.95" x2="46.05" y2="708.95" stroke="#111" stroke-width="0.9"/>
<rect x="52.4" y="693.15" width="9.5" height="68.44" fill="#8c8c8c" stroke="#111" stroke-width="0.9"/>
<line x1="57.15" y1="693.15" x2="57.15" y2="691.22" stroke="#111" stroke-width="0.9"/>
<line x1="54.55" y1="691.22" x2="59.75" y2="691.22" stroke="#111" stroke-width="0.9"/>
<rect x="73.6" y="754.58" width="9.5" height="7.02" fill="#111111" stroke="#111" stroke-width="0.9"/>
<line x1="78.35" y1="754.58" x2="78.35" y2="752.83" stroke="#111" stroke-width="0.9"/>
<line x1="75.75" y1="752.83" x2="80.95" y2="752.83" stroke="#111" stroke-width="0.9"/>
<rect x="86.3" y="749.32" width="9.5" height="12.29" fill="#8c8c8c" stroke="#111" stroke-width="0.9"/>
<line x1="91.05" y1="749.32" x2="91.05" y2="746.24" stroke="#111" stroke-width="0.9"/>
<line x1="88.45" y1="746.24" x2="93.65" y2="746.24" stroke="#111" stroke-width="0.9"/>
<line x1="32.2" y1="673.8" x2="32.2" y2="762.08" stroke="#000" stroke-width="0.95"/>
<line x1="30" y1="761.6" x2="32.2" y2="761.6" stroke="#000" stroke-width="0.85"/>
<text x="29.5" y="763.8" font-size="6.2" font-weight="bold" text-anchor="end" stroke="#000" stroke-width="0.1">0</text>
<line x1="30" y1="744.05" x2="32.2" y2="744.05" stroke="#000" stroke-width="0.85"/>
<text x="29.5" y="746.25" font-size="6.2" font-weight="bold" text-anchor="end" stroke="#000" stroke-width="0.1">20</text>
<line x1="30" y1="726.5" x2="32.2" y2="726.5" stroke="#000" stroke-width="0.85"/>
<text x="29.5" y="728.7" font-size="6.2" font-weight="bold" text-anchor="end" stroke="#000" stroke-width="0.1">40</text>
<line x1="30" y1="708.95" x2="32.2" y2="708.95" stroke="#000" stroke-width="0.85"/>
<text x="29.5" y="711.15" font-size="6.2" font-weight="bold" text-anchor="end" stroke="#000" stroke-width="0.1">60</text>
<line x1="30" y1="691.4" x2="32.2" y2="691.4" stroke="#000" stroke-width="0.85"/>
<text x="29.5" y="693.6" font-size="6.2" font-weight="bold" text-anchor="end" stroke="#000" stroke-width="0.1">80</text>
<line x1="30" y1="673.85" x2="32.2" y2="673.85" stroke="#000" stroke-width="0.85"/>
<text x="29.5" y="676.05" font-size="6.2" font-weight="bold" text-anchor="end" stroke="#000" stroke-width="0.1">100</text>
<line x1="32.2" y1="761.6" x2="99.5" y2="761.6" stroke="#000" stroke-width="1"/>
<text x="50.3" y="771.11" font-size="6.5" font-weight="bold" text-anchor="middle" textLength="23.8" lengthAdjust="spacingAndGlyphs" stroke="#000" stroke-width="0.1">Spleen</text>
<text x="84.5" y="771.11" font-size="6.5" font-weight="bold" text-anchor="middle" textLength="22" lengthAdjust="spacingAndGlyphs" stroke="#000" stroke-width="0.1">Tumor</text>
<text x="67.3" y="670.08" font-size="9.8" font-weight="bold" text-anchor="middle">Macrophages</text>
<text x="12.9" y="720.88" font-size="7" font-weight="bold" text-anchor="middle" stroke="#000" stroke-width="0.1" transform="rotate(-90 12.9 718.4)">% MHCII<tspan font-size="4.6" dy="-2.4">high</tspan></text>
<path d="M43.5,688.8 L43.5,685.8 L57.1,685.8 L57.1,688.8" fill="none" stroke="#111" stroke-width="0.7"/>
<text x="50.3" y="685.86" font-size="7.5" font-weight="bold" text-anchor="middle" fill="#333" stroke="#333" stroke-width="0.1">*</text>
<rect x="129.6" y="698.04" width="9.5" height="64.46" fill="#111111" stroke="#111" stroke-width="0.9"/>
<line x1="134.35" y1="698.04" x2="134.35" y2="694.76" stroke="#111" stroke-width="0.9"/>
<line x1="131.75" y1="694.76" x2="136.95" y2="694.76" stroke="#111" stroke-width="0.9"/>
<rect x="142.5" y="707.88" width="9.5" height="54.62" fill="#8c8c8c" stroke="#111" stroke-width="0.9"/>
<line x1="147.25" y1="707.88" x2="147.25" y2="705.69" stroke="#111" stroke-width="0.9"/>
<line x1="144.65" y1="705.69" x2="149.85" y2="705.69" stroke="#111" stroke-width="0.9"/>
<rect x="164.1" y="728.09" width="9.5" height="34.41" fill="#111111" stroke="#111" stroke-width="0.9"/>
<line x1="168.85" y1="728.09" x2="168.85" y2="725.36" stroke="#111" stroke-width="0.9"/>
<line x1="166.25" y1="725.36" x2="171.45" y2="725.36" stroke="#111" stroke-width="0.9"/>
<rect x="177.2" y="722.08" width="9.5" height="40.42" fill="#8c8c8c" stroke="#111" stroke-width="0.9"/>
<line x1="181.95" y1="722.08" x2="181.95" y2="715.52" stroke="#111" stroke-width="0.9"/>
<line x1="179.35" y1="715.52" x2="184.55" y2="715.52" stroke="#111" stroke-width="0.9"/>
<line x1="122.3" y1="674.8" x2="122.3" y2="762.98" stroke="#000" stroke-width="0.95"/>
<line x1="120.1" y1="762.5" x2="122.3" y2="762.5" stroke="#000" stroke-width="0.85"/>
<text x="119.6" y="764.7" font-size="6.2" font-weight="bold" text-anchor="end" stroke="#000" stroke-width="0.1">0</text>
<line x1="120.1" y1="740.65" x2="122.3" y2="740.65" stroke="#000" stroke-width="0.85"/>
<text x="119.6" y="742.85" font-size="6.2" font-weight="bold" text-anchor="end" stroke="#000" stroke-width="0.1">20</text>
<line x1="120.1" y1="718.8" x2="122.3" y2="718.8" stroke="#000" stroke-width="0.85"/>
<text x="119.6" y="721" font-size="6.2" font-weight="bold" text-anchor="end" stroke="#000" stroke-width="0.1">40</text>
<line x1="120.1" y1="696.95" x2="122.3" y2="696.95" stroke="#000" stroke-width="0.85"/>
<text x="119.6" y="699.15" font-size="6.2" font-weight="bold" text-anchor="end" stroke="#000" stroke-width="0.1">60</text>
<line x1="120.1" y1="675.1" x2="122.3" y2="675.1" stroke="#000" stroke-width="0.85"/>
<text x="119.6" y="677.3" font-size="6.2" font-weight="bold" text-anchor="end" stroke="#000" stroke-width="0.1">80</text>
<line x1="122.3" y1="762.5" x2="190" y2="762.5" stroke="#000" stroke-width="1"/>
<text x="140.6" y="771.11" font-size="6.5" font-weight="bold" text-anchor="middle" textLength="23.8" lengthAdjust="spacingAndGlyphs" stroke="#000" stroke-width="0.1">Spleen</text>
<text x="175.1" y="771.11" font-size="6.5" font-weight="bold" text-anchor="middle" textLength="22" lengthAdjust="spacingAndGlyphs" stroke="#000" stroke-width="0.1">Tumor</text>
<text x="161.8" y="670.08" font-size="9.8" font-weight="bold" text-anchor="middle">DCs</text>
<text x="104.4" y="720.99" font-size="7" font-weight="bold" text-anchor="middle" stroke="#000" stroke-width="0.1" transform="rotate(-90 104.4 718.5)">% MHCII<tspan font-size="4.6" dy="-2.4">high</tspan></text>
<rect x="219.8" y="761.92" width="9.5" height="0.88" fill="#111111" stroke="#111" stroke-width="0.9"/>
<line x1="224.55" y1="761.92" x2="224.55" y2="761.57" stroke="#111" stroke-width="0.9"/>
<line x1="221.95" y1="761.57" x2="227.15" y2="761.57" stroke="#111" stroke-width="0.9"/>
<rect x="232.9" y="761.75" width="9.5" height="1.05" fill="#8c8c8c" stroke="#111" stroke-width="0.9"/>
<line x1="237.65" y1="761.75" x2="237.65" y2="761.4" stroke="#111" stroke-width="0.9"/>
<line x1="235.05" y1="761.4" x2="240.25" y2="761.4" stroke="#111" stroke-width="0.9"/>
<rect x="255" y="697.3" width="9.5" height="65.5" fill="#111111" stroke="#111" stroke-width="0.9"/>
<line x1="259.75" y1="697.3" x2="259.75" y2="690.28" stroke="#111" stroke-width="0.9"/>
<line x1="257.15" y1="690.28" x2="262.35" y2="690.28" stroke="#111" stroke-width="0.9"/>
<rect x="268.1" y="704.85" width="9.5" height="57.95" fill="#8c8c8c" stroke="#111" stroke-width="0.9"/>
<line x1="272.85" y1="704.85" x2="272.85" y2="700.11" stroke="#111" stroke-width="0.9"/>
<line x1="270.25" y1="700.11" x2="275.45" y2="700.11" stroke="#111" stroke-width="0.9"/>
<line x1="213.5" y1="675" x2="213.5" y2="763.27" stroke="#000" stroke-width="0.95"/>
<line x1="211.3" y1="762.8" x2="213.5" y2="762.8" stroke="#000" stroke-width="0.85"/>
<text x="210.8" y="765" font-size="6.2" font-weight="bold" text-anchor="end" stroke="#000" stroke-width="0.1">0</text>
<line x1="211.3" y1="745.24" x2="213.5" y2="745.24" stroke="#000" stroke-width="0.85"/>
<text x="210.8" y="747.44" font-size="6.2" font-weight="bold" text-anchor="end" stroke="#000" stroke-width="0.1">10</text>
<line x1="211.3" y1="727.68" x2="213.5" y2="727.68" stroke="#000" stroke-width="0.85"/>
<text x="210.8" y="729.88" font-size="6.2" font-weight="bold" text-anchor="end" stroke="#000" stroke-width="0.1">20</text>
<line x1="211.3" y1="710.12" x2="213.5" y2="710.12" stroke="#000" stroke-width="0.85"/>
<text x="210.8" y="712.32" font-size="6.2" font-weight="bold" text-anchor="end" stroke="#000" stroke-width="0.1">30</text>
<line x1="211.3" y1="692.56" x2="213.5" y2="692.56" stroke="#000" stroke-width="0.85"/>
<text x="210.8" y="694.76" font-size="6.2" font-weight="bold" text-anchor="end" stroke="#000" stroke-width="0.1">40</text>
<line x1="211.3" y1="675" x2="213.5" y2="675" stroke="#000" stroke-width="0.85"/>
<text x="210.8" y="677.2" font-size="6.2" font-weight="bold" text-anchor="end" stroke="#000" stroke-width="0.1">50</text>
<line x1="213.5" y1="762.8" x2="281.9" y2="762.8" stroke="#000" stroke-width="1"/>
<text x="232.3" y="771.11" font-size="6.5" font-weight="bold" text-anchor="middle" textLength="23.8" lengthAdjust="spacingAndGlyphs" stroke="#000" stroke-width="0.1">Spleen</text>
<text x="266" y="771.11" font-size="6.5" font-weight="bold" text-anchor="middle" textLength="22" lengthAdjust="spacingAndGlyphs" stroke="#000" stroke-width="0.1">Tumor</text>
<text x="249.6" y="670.08" font-size="9.8" font-weight="bold" text-anchor="middle">NK Cells</text>
<text x="196" y="722.02" font-size="7.1" font-weight="bold" text-anchor="middle" stroke="#000" stroke-width="0.1" transform="rotate(-90 196 719.5)">% CD69</text>
<rect x="314.3" y="717.7" width="9.5" height="45.2" fill="#111111" stroke="#111" stroke-width="0.9"/>
<line x1="319.05" y1="717.7" x2="319.05" y2="715.49" stroke="#111" stroke-width="0.9"/>
<line x1="316.45" y1="715.49" x2="321.65" y2="715.49" stroke="#111" stroke-width="0.9"/>
<rect x="327.2" y="701.71" width="9.5" height="61.19" fill="#8c8c8c" stroke="#111" stroke-width="0.9"/>
<line x1="331.95" y1="701.71" x2="331.95" y2="699.51" stroke="#111" stroke-width="0.9"/>
<line x1="329.35" y1="699.51" x2="334.55" y2="699.51" stroke="#111" stroke-width="0.9"/>
<rect x="349.2" y="690.13" width="9.5" height="72.77" fill="#111111" stroke="#111" stroke-width="0.9"/>
<line x1="353.95" y1="690.13" x2="353.95" y2="686.28" stroke="#111" stroke-width="0.9"/>
<line x1="351.35" y1="686.28" x2="356.55" y2="686.28" stroke="#111" stroke-width="0.9"/>
<rect x="361.9" y="689.03" width="9.5" height="73.87" fill="#8c8c8c" stroke="#111" stroke-width="0.9"/>
<line x1="366.65" y1="689.03" x2="366.65" y2="684.07" stroke="#111" stroke-width="0.9"/>
<line x1="364.05" y1="684.07" x2="369.25" y2="684.07" stroke="#111" stroke-width="0.9"/>
<line x1="306.5" y1="674.5" x2="306.5" y2="763.38" stroke="#000" stroke-width="0.95"/>
<line x1="304.3" y1="762.9" x2="306.5" y2="762.9" stroke="#000" stroke-width="0.85"/>
<text x="303.8" y="765.1" font-size="6.2" font-weight="bold" text-anchor="end" stroke="#000" stroke-width="0.1">0</text>
<line x1="304.3" y1="740.85" x2="306.5" y2="740.85" stroke="#000" stroke-width="0.85"/>
<text x="303.8" y="743.05" font-size="6.2" font-weight="bold" text-anchor="end" stroke="#000" stroke-width="0.1">20</text>
<line x1="304.3" y1="718.8" x2="306.5" y2="718.8" stroke="#000" stroke-width="0.85"/>
<text x="303.8" y="721" font-size="6.2" font-weight="bold" text-anchor="end" stroke="#000" stroke-width="0.1">40</text>
<line x1="304.3" y1="696.75" x2="306.5" y2="696.75" stroke="#000" stroke-width="0.85"/>
<text x="303.8" y="698.95" font-size="6.2" font-weight="bold" text-anchor="end" stroke="#000" stroke-width="0.1">60</text>
<line x1="304.3" y1="674.7" x2="306.5" y2="674.7" stroke="#000" stroke-width="0.85"/>
<text x="303.8" y="676.9" font-size="6.2" font-weight="bold" text-anchor="end" stroke="#000" stroke-width="0.1">80</text>
<line x1="306.5" y1="762.9" x2="374.5" y2="762.9" stroke="#000" stroke-width="1"/>
<text x="326" y="771.11" font-size="6.5" font-weight="bold" text-anchor="middle" textLength="23.8" lengthAdjust="spacingAndGlyphs" stroke="#000" stroke-width="0.1">Spleen</text>
<text x="360.2" y="771.11" font-size="6.5" font-weight="bold" text-anchor="middle" textLength="22" lengthAdjust="spacingAndGlyphs" stroke="#000" stroke-width="0.1">Tumor</text>
<text x="341.8" y="670.08" font-size="9.8" font-weight="bold" text-anchor="middle">CD4</text>
<text x="289" y="721.52" font-size="7.1" font-weight="bold" text-anchor="middle" stroke="#000" stroke-width="0.1" transform="rotate(-90 289 719)">% CD44</text>
<path d="M319.4,695.5 L319.4,692.5 L332.4,692.5 L332.4,695.5" fill="none" stroke="#111" stroke-width="0.7"/>
<text x="325.9" y="692.56" font-size="7.5" font-weight="bold" text-anchor="middle" fill="#333" stroke="#333" stroke-width="0.1">**</text>
<rect x="407.5" y="710.2" width="9.5" height="52.5" fill="#111111" stroke="#111" stroke-width="0.9"/>
<line x1="412.25" y1="710.2" x2="412.25" y2="708.1" stroke="#111" stroke-width="0.9"/>
<line x1="409.65" y1="708.1" x2="414.85" y2="708.1" stroke="#111" stroke-width="0.9"/>
<rect x="420.4" y="690.25" width="9.5" height="72.45" fill="#8c8c8c" stroke="#111" stroke-width="0.9"/>
<line x1="425.15" y1="690.25" x2="425.15" y2="683.25" stroke="#111" stroke-width="0.9"/>
<line x1="422.55" y1="683.25" x2="427.75" y2="683.25" stroke="#111" stroke-width="0.9"/>
<rect x="441.9" y="734.7" width="9.5" height="28" fill="#111111" stroke="#111" stroke-width="0.9"/>
<line x1="446.65" y1="734.7" x2="446.65" y2="726.65" stroke="#111" stroke-width="0.9"/>
<line x1="444.05" y1="726.65" x2="449.25" y2="726.65" stroke="#111" stroke-width="0.9"/>
<rect x="455.4" y="730.5" width="9.5" height="32.2" fill="#8c8c8c" stroke="#111" stroke-width="0.9"/>
<line x1="460.15" y1="730.5" x2="460.15" y2="724.2" stroke="#111" stroke-width="0.9"/>
<line x1="457.55" y1="724.2" x2="462.75" y2="724.2" stroke="#111" stroke-width="0.9"/>
<line x1="401.5" y1="675" x2="401.5" y2="763.18" stroke="#000" stroke-width="0.95"/>
<line x1="399.3" y1="762.7" x2="401.5" y2="762.7" stroke="#000" stroke-width="0.85"/>
<text x="398.8" y="764.9" font-size="6.2" font-weight="bold" text-anchor="end" stroke="#000" stroke-width="0.1">0</text>
<line x1="399.3" y1="745.2" x2="401.5" y2="745.2" stroke="#000" stroke-width="0.85"/>
<text x="398.8" y="747.4" font-size="6.2" font-weight="bold" text-anchor="end" stroke="#000" stroke-width="0.1">5</text>
<line x1="399.3" y1="727.7" x2="401.5" y2="727.7" stroke="#000" stroke-width="0.85"/>
<text x="398.8" y="729.9" font-size="6.2" font-weight="bold" text-anchor="end" stroke="#000" stroke-width="0.1">10</text>
<line x1="399.3" y1="710.2" x2="401.5" y2="710.2" stroke="#000" stroke-width="0.85"/>
<text x="398.8" y="712.4" font-size="6.2" font-weight="bold" text-anchor="end" stroke="#000" stroke-width="0.1">15</text>
<line x1="399.3" y1="692.7" x2="401.5" y2="692.7" stroke="#000" stroke-width="0.85"/>
<text x="398.8" y="694.9" font-size="6.2" font-weight="bold" text-anchor="end" stroke="#000" stroke-width="0.1">20</text>
<line x1="399.3" y1="675.2" x2="401.5" y2="675.2" stroke="#000" stroke-width="0.85"/>
<text x="398.8" y="677.4" font-size="6.2" font-weight="bold" text-anchor="end" stroke="#000" stroke-width="0.1">25</text>
<line x1="401.5" y1="762.7" x2="468" y2="762.7" stroke="#000" stroke-width="1"/>
<text x="417.7" y="771.11" font-size="6.5" font-weight="bold" text-anchor="middle" textLength="23.8" lengthAdjust="spacingAndGlyphs" stroke="#000" stroke-width="0.1">Spleen</text>
<text x="447.9" y="771.11" font-size="6.5" font-weight="bold" text-anchor="middle" textLength="22" lengthAdjust="spacingAndGlyphs" stroke="#000" stroke-width="0.1">Tumor</text>
<text x="439.3" y="670.08" font-size="9.8" font-weight="bold" text-anchor="middle">CD8</text>
<text x="382.3" y="721.52" font-size="7.1" font-weight="bold" text-anchor="middle" stroke="#000" stroke-width="0.1" transform="rotate(-90 382.3 719)">% CD44</text>
<rect x="475.6" y="679.2" width="11.6" height="7.6" fill="#111111" stroke="#111" stroke-width="0.7"/>
<rect x="475.6" y="691.3" width="11.6" height="7.6" fill="#8c8c8c" stroke="#111" stroke-width="0.7"/>
<text x="490.4" y="685.34" font-size="6.6" font-weight="bold" stroke="#000" stroke-width="0.1">WT</text>
<text x="490.4" y="697.34" font-size="6.6" font-weight="bold" stroke="#000" stroke-width="0.1">KO</text>
</svg></body></html>
